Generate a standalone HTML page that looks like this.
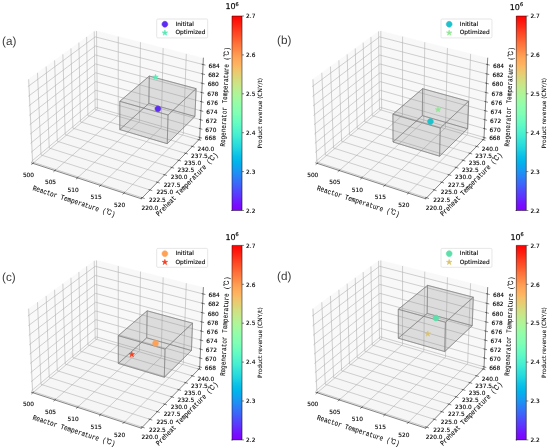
<!DOCTYPE html>
<html><head><meta charset="utf-8"><style>
html,body{margin:0;padding:0;background:#fff;}
text{text-rendering:geometricPrecision;stroke:#000;stroke-width:0.3px;stroke-opacity:0.6}
.pl text{stroke:none}
#wrap{position:relative;width:550px;height:448px;overflow:hidden;}
#wrap svg{position:absolute;left:0;top:0;display:block;filter:blur(0.3px);}
</style></head><body><div id="wrap">
<svg width="550" height="448" preserveAspectRatio="none" viewBox="0 0 940.61 766.17" version="1.1">
 
 <defs>
  <style type="text/css">*{stroke-linejoin: round; stroke-linecap: butt}</style>
 </defs>
 <defs><linearGradient id="rbw" x1="0" y1="0" x2="0" y2="1"><stop offset="0.00" stop-color="#ff0000"/><stop offset="0.02" stop-color="#ff1008"/><stop offset="0.04" stop-color="#ff1f10"/><stop offset="0.06" stop-color="#ff2f18"/><stop offset="0.08" stop-color="#ff4121"/><stop offset="0.10" stop-color="#ff5029"/><stop offset="0.12" stop-color="#ff5f30"/><stop offset="0.14" stop-color="#ff703a"/><stop offset="0.16" stop-color="#ff7e41"/><stop offset="0.18" stop-color="#ff8c49"/><stop offset="0.20" stop-color="#ff9b52"/><stop offset="0.22" stop-color="#ffa759"/><stop offset="0.25" stop-color="#ffb360"/><stop offset="0.27" stop-color="#f4c069"/><stop offset="0.29" stop-color="#ebca70"/><stop offset="0.31" stop-color="#e0d377"/><stop offset="0.33" stop-color="#d4dd80"/><stop offset="0.35" stop-color="#cbe486"/><stop offset="0.37" stop-color="#c0eb8d"/><stop offset="0.39" stop-color="#b4f295"/><stop offset="0.41" stop-color="#abf69b"/><stop offset="0.43" stop-color="#a0faa1"/><stop offset="0.45" stop-color="#94fda8"/><stop offset="0.47" stop-color="#8bfeae"/><stop offset="0.50" stop-color="#80ffb4"/><stop offset="0.52" stop-color="#74feba"/><stop offset="0.54" stop-color="#6afdc0"/><stop offset="0.56" stop-color="#60fac5"/><stop offset="0.58" stop-color="#54f6cb"/><stop offset="0.60" stop-color="#4af2cf"/><stop offset="0.62" stop-color="#40ecd4"/><stop offset="0.64" stop-color="#34e4d9"/><stop offset="0.66" stop-color="#2adddd"/><stop offset="0.68" stop-color="#20d5e1"/><stop offset="0.70" stop-color="#14cae5"/><stop offset="0.72" stop-color="#0ac0e8"/><stop offset="0.75" stop-color="#00b5eb"/><stop offset="0.77" stop-color="#0ca7ef"/><stop offset="0.79" stop-color="#169bf2"/><stop offset="0.81" stop-color="#208ef4"/><stop offset="0.83" stop-color="#2c7ef7"/><stop offset="0.85" stop-color="#3670f8"/><stop offset="0.87" stop-color="#4062fa"/><stop offset="0.89" stop-color="#4c50fc"/><stop offset="0.91" stop-color="#5641fd"/><stop offset="0.93" stop-color="#6032fe"/><stop offset="0.95" stop-color="#6c1fff"/><stop offset="0.97" stop-color="#7610ff"/><stop offset="1.00" stop-color="#8000ff"/></linearGradient></defs><g id="figure_1">
  <g id="patch_1">
   <path d="M 0 766.17 
L 940.61 766.17 
L 940.61 0 
L 0 0 
z
" style="fill: #ffffff"/>
  </g>
  <g id="patch_2">
   <path d="M 28.64 361.05 
L 363.02 361.05 
L 363.02 26.67 
L 28.64 26.67 
z
" style="fill: #ffffff"/>
  </g>
  <g id="pane3d_1">
   <g id="patch_3">
    <path d="M 53.89 278.61 
L 164.31 186.05 
L 162.78 52.56 
L 47.07 137.00 
" style="fill: #f9f9f9; stroke: #f9f9f9; stroke-linejoin: miter"/>
   </g>
  </g>
  <g id="pane3d_2">
   <g id="patch_4">
    <path d="M 164.31 186.05 
L 341.50 237.55 
L 347.82 99.46 
L 162.78 52.56 
" style="fill: #f8f8f8; stroke: #f8f8f8; stroke-linejoin: miter"/>
   </g>
  </g>
  <g id="pane3d_3">
   <g id="patch_5">
    <path d="M 53.89 278.61 
L 241.72 339.95 
L 341.50 237.55 
L 164.31 186.05 
" style="fill: #f6f6f6; stroke: #f6f6f6; stroke-linejoin: miter"/>
   </g>
  </g>
  <g id="grid3d_1">
   <g id="Line3DCollection_1">
    <path d="M 56.21 279.36 
L 166.51 186.69 
L 165.07 53.14 
" style="fill: none; stroke: #b0b0b0"/>
    <path d="M 93.89 291.67 
L 202.18 197.05 
L 202.26 62.57 
" style="fill: none; stroke: #b0b0b0"/>
    <path d="M 132.40 304.25 
L 238.57 207.63 
L 240.23 72.19 
" style="fill: none; stroke: #b0b0b0"/>
    <path d="M 171.76 317.10 
L 275.69 218.42 
L 279.01 82.02 
" style="fill: none; stroke: #b0b0b0"/>
    <path d="M 212.01 330.25 
L 313.58 229.43 
L 318.61 92.06 
" style="fill: none; stroke: #b0b0b0"/>
   </g>
  </g>
  <g id="grid3d_2">
   <g id="Line3DCollection_2">
    <path d="M 49.03 135.57 
L 55.75 277.04 
L 243.41 338.22 
" style="fill: none; stroke: #b0b0b0"/>
    <path d="M 64.14 124.54 
L 70.12 265.00 
L 256.44 324.84 
" style="fill: none; stroke: #b0b0b0"/>
    <path d="M 78.91 113.76 
L 84.19 253.20 
L 269.19 311.76 
" style="fill: none; stroke: #b0b0b0"/>
    <path d="M 93.37 103.21 
L 97.97 241.65 
L 281.66 298.96 
" style="fill: none; stroke: #b0b0b0"/>
    <path d="M 107.51 92.89 
L 111.46 230.34 
L 293.86 286.44 
" style="fill: none; stroke: #b0b0b0"/>
    <path d="M 121.35 82.79 
L 124.68 219.26 
L 305.79 274.20 
" style="fill: none; stroke: #b0b0b0"/>
    <path d="M 134.90 72.90 
L 137.63 208.41 
L 317.47 262.21 
" style="fill: none; stroke: #b0b0b0"/>
    <path d="M 148.17 63.22 
L 150.32 197.77 
L 328.91 250.47 
" style="fill: none; stroke: #b0b0b0"/>
    <path d="M 161.16 53.74 
L 162.76 187.35 
L 340.11 238.98 
" style="fill: none; stroke: #b0b0b0"/>
   </g>
  </g>
  <g id="grid3d_3">
   <g id="Line3DCollection_3">
    <path d="M 341.61 235.07 
L 164.28 183.65 
L 53.77 276.07 
" style="fill: none; stroke: #b0b0b0"/>
    <path d="M 342.30 220.02 
L 164.12 169.07 
L 53.02 260.65 
" style="fill: none; stroke: #b0b0b0"/>
    <path d="M 343.00 204.81 
L 163.95 154.35 
L 52.27 245.08 
" style="fill: none; stroke: #b0b0b0"/>
    <path d="M 343.70 189.46 
L 163.78 139.50 
L 51.52 229.34 
" style="fill: none; stroke: #b0b0b0"/>
    <path d="M 344.41 173.95 
L 163.60 124.50 
L 50.75 213.45 
" style="fill: none; stroke: #b0b0b0"/>
    <path d="M 345.13 158.30 
L 163.43 109.36 
L 49.98 197.39 
" style="fill: none; stroke: #b0b0b0"/>
    <path d="M 345.85 142.48 
L 163.25 94.08 
L 49.20 181.16 
" style="fill: none; stroke: #b0b0b0"/>
    <path d="M 346.59 126.50 
L 163.08 78.66 
L 48.41 164.77 
" style="fill: none; stroke: #b0b0b0"/>
    <path d="M 347.32 110.37 
L 162.90 63.08 
L 47.61 148.20 
" style="fill: none; stroke: #b0b0b0"/>
   </g>
  </g>
  <g id="axis3d_1">
   <g id="line2d_1">
    <path d="M 53.89 278.61 
L 241.72 339.95 
" style="fill: none; stroke: #000000; stroke-width: 0.8; stroke-linecap: square"/>
   </g>
   <g id="xtick_1">
    <g id="line2d_2">
     <path d="M 57.17 278.56 
L 54.29 280.98 
" style="fill: none; stroke: #000000; stroke-width: 0.8; stroke-linecap: square"/>
    </g>
    <g id="text_1">
     <text style="font-size: 10px; font-family: 'DejaVu Sans', sans-serif; text-anchor: middle" x="48.68" y="302.61" transform="rotate(-0.01 48.68 302.61)">500</text>
    </g>
   </g>
   <g id="xtick_2">
    <g id="line2d_3">
     <path d="M 94.84 290.85 
L 92.00 293.32 
" style="fill: none; stroke: #000000; stroke-width: 0.8; stroke-linecap: square"/>
    </g>
    <g id="text_2">
     <text style="font-size: 10px; font-family: 'DejaVu Sans', sans-serif; text-anchor: middle" x="86.39" y="315.13" transform="rotate(-0.01 86.39 315.13)">505</text>
    </g>
   </g>
   <g id="xtick_3">
    <g id="line2d_4">
     <path d="M 133.33 303.41 
L 130.55 305.94 
" style="fill: none; stroke: #000000; stroke-width: 0.8; stroke-linecap: square"/>
    </g>
    <g id="text_3">
     <text style="font-size: 10px; font-family: 'DejaVu Sans', sans-serif; text-anchor: middle" x="124.94" y="327.92" transform="rotate(-0.01 124.94 327.92)">510</text>
    </g>
   </g>
   <g id="xtick_4">
    <g id="line2d_5">
     <path d="M 172.67 316.24 
L 169.95 318.83 
" style="fill: none; stroke: #000000; stroke-width: 0.8; stroke-linecap: square"/>
    </g>
    <g id="text_4">
     <text style="font-size: 10px; font-family: 'DejaVu Sans', sans-serif; text-anchor: middle" x="164.33" y="340.99" transform="rotate(-0.01 164.33 340.99)">515</text>
    </g>
   </g>
   <g id="xtick_5">
    <g id="line2d_6">
     <path d="M 212.90 329.37 
L 210.23 332.01 
" style="fill: none; stroke: #000000; stroke-width: 0.8; stroke-linecap: square"/>
    </g>
    <g id="text_5">
     <text style="font-size: 10px; font-family: 'DejaVu Sans', sans-serif; text-anchor: middle" x="204.62" y="354.36" transform="rotate(-0.01 204.62 354.36)">520</text>
    </g>
   </g>
   <g id="text_6">
    <g transform="translate(-2.22 0.00)"><text textLength="147.93" lengthAdjust="spacingAndGlyphs" style="stroke-width: 0.2px; font-size: 12.4px; font-family: 'Liberation Mono', 'IPAGothic', monospace; text-anchor: middle" x="127.69" y="347.88" transform="rotate(-341.91 127.69 347.88)">Reactor Temperature (℃)</text></g>
   </g>
  </g>
  <g id="axis3d_2">
   <g id="line2d_7">
    <path d="M 341.50 237.55 
L 241.72 339.95 
" style="fill: none; stroke: #000000; stroke-width: 0.8; stroke-linecap: square"/>
   </g>
   <g id="xtick_6">
    <g id="line2d_8">
     <path d="M 241.83 337.70 
L 246.58 339.25 
" style="fill: none; stroke: #000000; stroke-width: 0.8; stroke-linecap: square"/>
    </g>
    <g id="text_7">
     <text style="font-size: 10px; font-family: 'DejaVu Sans', sans-serif; text-anchor: middle" x="256.34" y="359.30" transform="rotate(-0.01 256.34 359.30)">220.0</text>
    </g>
   </g>
   <g id="xtick_7">
    <g id="line2d_9">
     <path d="M 254.87 324.33 
L 259.59 325.85 
" style="fill: none; stroke: #000000; stroke-width: 0.8; stroke-linecap: square"/>
    </g>
    <g id="text_8">
     <text style="font-size: 10px; font-family: 'DejaVu Sans', sans-serif; text-anchor: middle" x="269.24" y="345.76" transform="rotate(-0.01 269.24 345.76)">222.5</text>
    </g>
   </g>
   <g id="xtick_8">
    <g id="line2d_10">
     <path d="M 267.63 311.26 
L 272.31 312.74 
" style="fill: none; stroke: #000000; stroke-width: 0.8; stroke-linecap: square"/>
    </g>
    <g id="text_9">
     <text style="font-size: 10px; font-family: 'DejaVu Sans', sans-serif; text-anchor: middle" x="281.85" y="332.53" transform="rotate(-0.01 281.85 332.53)">225.0</text>
    </g>
   </g>
   <g id="xtick_9">
    <g id="line2d_11">
     <path d="M 280.11 298.48 
L 284.75 299.93 
" style="fill: none; stroke: #000000; stroke-width: 0.8; stroke-linecap: square"/>
    </g>
    <g id="text_10">
     <text style="font-size: 10px; font-family: 'DejaVu Sans', sans-serif; text-anchor: middle" x="294.19" y="319.58" transform="rotate(-0.01 294.19 319.58)">227.5</text>
    </g>
   </g>
   <g id="xtick_10">
    <g id="line2d_12">
     <path d="M 292.32 285.97 
L 296.93 287.39 
" style="fill: none; stroke: #000000; stroke-width: 0.8; stroke-linecap: square"/>
    </g>
    <g id="text_11">
     <text style="font-size: 10px; font-family: 'DejaVu Sans', sans-serif; text-anchor: middle" x="306.25" y="306.92" transform="rotate(-0.01 306.25 306.92)">230.0</text>
    </g>
   </g>
   <g id="xtick_11">
    <g id="line2d_13">
     <path d="M 304.27 273.73 
L 308.84 275.12 
" style="fill: none; stroke: #000000; stroke-width: 0.8; stroke-linecap: square"/>
    </g>
    <g id="text_12">
     <text style="font-size: 10px; font-family: 'DejaVu Sans', sans-serif; text-anchor: middle" x="318.06" y="294.53" transform="rotate(-0.01 318.06 294.53)">232.5</text>
    </g>
   </g>
   <g id="xtick_12">
    <g id="line2d_14">
     <path d="M 315.96 261.76 
L 320.50 263.11 
" style="fill: none; stroke: #000000; stroke-width: 0.8; stroke-linecap: square"/>
    </g>
    <g id="text_13">
     <text style="font-size: 10px; font-family: 'DejaVu Sans', sans-serif; text-anchor: middle" x="329.62" y="282.40" transform="rotate(-0.01 329.62 282.40)">235.0</text>
    </g>
   </g>
   <g id="xtick_13">
    <g id="line2d_15">
     <path d="M 327.41 250.03 
L 331.91 251.36 
" style="fill: none; stroke: #000000; stroke-width: 0.8; stroke-linecap: square"/>
    </g>
    <g id="text_14">
     <text style="font-size: 10px; font-family: 'DejaVu Sans', sans-serif; text-anchor: middle" x="340.93" y="270.52" transform="rotate(-0.01 340.93 270.52)">237.5</text>
    </g>
   </g>
   <g id="xtick_14">
    <g id="line2d_16">
     <path d="M 338.62 238.55 
L 343.09 239.85 
" style="fill: none; stroke: #000000; stroke-width: 0.8; stroke-linecap: square"/>
    </g>
    <g id="text_15">
     <text style="font-size: 10px; font-family: 'DejaVu Sans', sans-serif; text-anchor: middle" x="352.01" y="258.90" transform="rotate(-0.01 352.01 258.90)">240.0</text>
    </g>
   </g>
   <g id="text_16">
    <g transform="translate(-1.37 0.51)"><text textLength="146.22" lengthAdjust="spacingAndGlyphs" style="stroke-width: 0.2px; font-size: 12.4px; font-family: 'Liberation Mono', 'IPAGothic', monospace; text-anchor: middle" x="323.97" y="317.54" transform="rotate(-45.74 323.97 317.54)">Preheat Temperature (℃)</text></g>
   </g>
  </g>
  <g id="axis3d_3">
   <g id="line2d_17">
    <path d="M 341.50 237.55 
L 347.82 99.46 
" style="fill: none; stroke: #000000; stroke-width: 0.8; stroke-linecap: square"/>
   </g>
   <g id="xtick_15">
    <g id="line2d_18">
     <path d="M 340.13 234.64 
L 344.59 235.94 
" style="fill: none; stroke: #000000; stroke-width: 0.8; stroke-linecap: square"/>
    </g>
    <g id="text_17">
     <text style="font-size: 10px; font-family: 'DejaVu Sans', sans-serif; text-anchor: middle" x="359.89" y="240.07" transform="rotate(-0.01 359.89 240.07)">668</text>
    </g>
   </g>
   <g id="xtick_16">
    <g id="line2d_19">
     <path d="M 340.81 219.59 
L 345.30 220.87 
" style="fill: none; stroke: #000000; stroke-width: 0.8; stroke-linecap: square"/>
    </g>
    <g id="text_18">
     <text style="font-size: 10px; font-family: 'DejaVu Sans', sans-serif; text-anchor: middle" x="360.66" y="225.03" transform="rotate(-0.01 360.66 225.03)">670</text>
    </g>
   </g>
   <g id="xtick_17">
    <g id="line2d_20">
     <path d="M 341.50 204.39 
L 346.01 205.66 
" style="fill: none; stroke: #000000; stroke-width: 0.8; stroke-linecap: square"/>
    </g>
    <g id="text_19">
     <text style="font-size: 10px; font-family: 'DejaVu Sans', sans-serif; text-anchor: middle" x="361.45" y="209.86" transform="rotate(-0.01 361.45 209.86)">672</text>
    </g>
   </g>
   <g id="xtick_18">
    <g id="line2d_21">
     <path d="M 342.19 189.04 
L 346.73 190.30 
" style="fill: none; stroke: #000000; stroke-width: 0.8; stroke-linecap: square"/>
    </g>
    <g id="text_20">
     <text style="font-size: 10px; font-family: 'DejaVu Sans', sans-serif; text-anchor: middle" x="362.24" y="194.53" transform="rotate(-0.01 362.24 194.53)">674</text>
    </g>
   </g>
   <g id="xtick_19">
    <g id="line2d_22">
     <path d="M 342.89 173.54 
L 347.45 174.79 
" style="fill: none; stroke: #000000; stroke-width: 0.8; stroke-linecap: square"/>
    </g>
    <g id="text_21">
     <text style="font-size: 10px; font-family: 'DejaVu Sans', sans-serif; text-anchor: middle" x="363.04" y="179.05" transform="rotate(-0.01 363.04 179.05)">676</text>
    </g>
   </g>
   <g id="xtick_20">
    <g id="line2d_23">
     <path d="M 343.60 157.88 
L 348.19 159.12 
" style="fill: none; stroke: #000000; stroke-width: 0.8; stroke-linecap: square"/>
    </g>
    <g id="text_22">
     <text style="font-size: 10px; font-family: 'DejaVu Sans', sans-serif; text-anchor: middle" x="363.85" y="163.41" transform="rotate(-0.01 363.85 163.41)">678</text>
    </g>
   </g>
   <g id="xtick_21">
    <g id="line2d_24">
     <path d="M 344.32 142.07 
L 348.93 143.29 
" style="fill: none; stroke: #000000; stroke-width: 0.8; stroke-linecap: square"/>
    </g>
    <g id="text_23">
     <text style="font-size: 10px; font-family: 'DejaVu Sans', sans-serif; text-anchor: middle" x="364.66" y="147.63" transform="rotate(-0.01 364.66 147.63)">680</text>
    </g>
   </g>
   <g id="xtick_22">
    <g id="line2d_25">
     <path d="M 345.04 126.10 
L 349.67 127.31 
" style="fill: none; stroke: #000000; stroke-width: 0.8; stroke-linecap: square"/>
    </g>
    <g id="text_24">
     <text style="font-size: 10px; font-family: 'DejaVu Sans', sans-serif; text-anchor: middle" x="365.49" y="131.68" transform="rotate(-0.01 365.49 131.68)">682</text>
    </g>
   </g>
   <g id="xtick_23">
    <g id="line2d_26">
     <path d="M 345.77 109.97 
L 350.43 111.16 
" style="fill: none; stroke: #000000; stroke-width: 0.8; stroke-linecap: square"/>
    </g>
    <g id="text_25">
     <text style="font-size: 10px; font-family: 'DejaVu Sans', sans-serif; text-anchor: middle" x="366.32" y="115.57" transform="rotate(-0.01 366.32 115.57)">684</text>
    </g>
   </g>
   <g id="text_26">
    <g transform="translate(-0.86 1.03)"><text textLength="170.17" lengthAdjust="spacingAndGlyphs" style="stroke-width: 0.2px; font-size: 12.4px; font-family: 'Liberation Mono', 'IPAGothic', monospace; text-anchor: middle" x="389.43" y="164.80" transform="rotate(-87.37 389.43 164.80)">Regenerator Temperature (℃)</text></g>
   </g>
  </g>
  <g id="axes_1">
   <g id="Poly3DCollection_1">
    <path d="M 333.36 199.19 
L 254.54 177.03 
L 255.35 130.08 
L 335.39 151.55 
z
" clip-path="url(#pbe417dcc4d)" style="fill: #808080; fill-opacity: 0.12; stroke: #7a7a7a; stroke-width: 0.85"/>
    <path d="M 204.83 221.58 
L 254.54 177.03 
L 255.35 130.08 
L 204.90 173.26 
z
" clip-path="url(#pbe417dcc4d)" style="fill: #808080; fill-opacity: 0.12; stroke: #7a7a7a; stroke-width: 0.85"/>
    <path d="M 204.83 221.58 
L 286.02 245.71 
L 333.36 199.19 
L 254.54 177.03 
z
" clip-path="url(#pbe417dcc4d)" style="fill: #808080; fill-opacity: 0.12; stroke: #7a7a7a; stroke-width: 0.85"/>
    <path d="M 204.90 173.26 
L 287.38 196.67 
L 335.39 151.55 
L 255.35 130.08 
z
" clip-path="url(#pbe417dcc4d)" style="fill: #808080; fill-opacity: 0.12; stroke: #7a7a7a; stroke-width: 0.85"/>
    <path d="M 286.02 245.71 
L 333.36 199.19 
L 335.39 151.55 
L 287.38 196.67 
z
" clip-path="url(#pbe417dcc4d)" style="fill: #808080; fill-opacity: 0.12; stroke: #7a7a7a; stroke-width: 0.85"/>
    <path d="M 204.83 221.58 
L 286.02 245.71 
L 287.38 196.67 
L 204.90 173.26 
z
" clip-path="url(#pbe417dcc4d)" style="fill: #808080; fill-opacity: 0.12; stroke: #7a7a7a; stroke-width: 0.85"/>
   </g>
   <g id="Path3DCollection_1">
    
    <g clip-path="url(#pbe417dcc4d)">
     <path d="M 0 5 
C 1.32 5 2.59 4.47 3.53 3.53 
C 4.47 2.59 5 1.32 5 0 
C 5 -1.32 4.47 -2.59 3.53 -3.53 
C 2.59 -4.47 1.32 -5 0 -5 
C -1.32 -5 -2.59 -4.47 -3.53 -3.53 
C -4.47 -2.59 -5 -1.32 -5 0 
C -5 1.32 -4.47 2.59 -3.53 3.53 
C -2.59 4.47 -1.32 5 0 5 
z
" transform="translate(270.04 186.07)" style="fill: #5d2df1; stroke: #5d2df1"/>
    </g>
   </g>
   <g id="Path3DCollection_2">
    
    <g clip-path="url(#pbe417dcc4d)">
     <path d="M 0 -5 
L -1.12 -1.54 
L -4.75 -1.54 
L -1.81 0.59 
L -2.93 4.04 
L -0 1.90 
L 2.93 4.04 
L 1.81 0.59 
L 4.75 -1.54 
L 1.12 -1.54 
z
" transform="translate(265.93 131.85)" style="fill: #5ae9b7; stroke: #5ae9b7"/>
    </g>
   </g>
   <g id="legend_1">
    <g id="patch_6">
     <path d="M 269.99 64.85 
L 353.17 64.85 
Q 355.17 64.85 355.17 62.85 
L 355.17 34.49 
Q 355.17 32.49 353.17 32.49 
L 269.99 32.49 
Q 267.99 32.49 267.99 34.49 
L 267.99 62.85 
Q 267.99 64.85 269.99 64.85 
z
" style="fill: #ffffff; opacity: 0.8; stroke: #cccccc; stroke-linejoin: miter"/>
    </g>
    <g id="Path3DCollection_3">
     <g>
      <path d="M 0 5 
C 1.32 5 2.59 4.47 3.53 3.53 
C 4.47 2.59 5 1.32 5 0 
C 5 -1.32 4.47 -2.59 3.53 -3.53 
C 2.59 -4.47 1.32 -5 0 -5 
C -1.32 -5 -2.59 -4.47 -3.53 -3.53 
C -4.47 -2.59 -5 -1.32 -5 0 
C -5 1.32 -4.47 2.59 -3.53 3.53 
C -2.59 4.47 -1.32 5 0 5 
z
" transform="translate(281.99 41.46)" style="fill: #5d2df1; stroke: #5d2df1"/>
     </g>
    </g>
    <g id="text_27">
     <text style="font-size: 10px; font-family: 'DejaVu Sans', sans-serif; text-anchor: start" x="299.99" y="44.09" transform="rotate(-0.01 299.99 44.09)">Initital</text>
    </g>
    <g id="Path3DCollection_4">
     <g>
      <path d="M 0 -5 
L -1.12 -1.54 
L -4.75 -1.54 
L -1.81 0.59 
L -2.93 4.04 
L -0 1.90 
L 2.93 4.04 
L 1.81 0.59 
L 4.75 -1.54 
L 1.12 -1.54 
z
" transform="translate(281.99 56.14)" style="fill: #5ae9b7; stroke: #5ae9b7"/>
     </g>
    </g>
    <g id="text_28">
     <text style="font-size: 10px; font-family: 'DejaVu Sans', sans-serif; text-anchor: start" x="299.99" y="58.77" transform="rotate(-0.01 299.99 58.77)">Optimized</text>
    </g>
   </g>
  </g>
  <g id="axes_2">
   <g id="patch_7">
    <path d="M 396.76 360 
L 413.87 360 
L 413.87 27.36 
L 396.76 27.36 
z
" style="fill: #ffffff"/>
   </g>
   <rect x="396.72" y="27.36" width="17.28" height="332.64" fill="url(#rbw)"/>
   <g id="matplotlib.axis_1"/>
   <g id="matplotlib.axis_2">
    <g id="ytick_1">
     <g id="line2d_27">
      
      <g>
       <path d="M 0 0 
L 3.5 0 
" transform="translate(413.87 360)" style="stroke: #000000; stroke-width: 0.8"/>
      </g>
     </g>
     <g id="text_29">
      <text style="font-size: 10px; font-family: 'DejaVu Sans', sans-serif; text-anchor: start" x="420.87" y="363.79" transform="rotate(-0.01 420.87 363.79)">2.2</text>
     </g>
    </g>
    <g id="ytick_2">
     <g id="line2d_28">
      <g>
       <path d="M 0 0 
L 3.5 0 
" transform="translate(413.87 293.47)" style="stroke: #000000; stroke-width: 0.8"/>
      </g>
     </g>
     <g id="text_30">
      <text style="font-size: 10px; font-family: 'DejaVu Sans', sans-serif; text-anchor: start" x="420.87" y="297.27" transform="rotate(-0.01 420.87 297.27)">2.3</text>
     </g>
    </g>
    <g id="ytick_3">
     <g id="line2d_29">
      <g>
       <path d="M 0 0 
L 3.5 0 
" transform="translate(413.87 226.94)" style="stroke: #000000; stroke-width: 0.8"/>
      </g>
     </g>
     <g id="text_31">
      <text style="font-size: 10px; font-family: 'DejaVu Sans', sans-serif; text-anchor: start" x="420.87" y="230.74" transform="rotate(-0.01 420.87 230.74)">2.4</text>
     </g>
    </g>
    <g id="ytick_4">
     <g id="line2d_30">
      <g>
       <path d="M 0 0 
L 3.5 0 
" transform="translate(413.87 160.41)" style="stroke: #000000; stroke-width: 0.8"/>
      </g>
     </g>
     <g id="text_32">
      <text style="font-size: 10px; font-family: 'DejaVu Sans', sans-serif; text-anchor: start" x="420.87" y="164.21" transform="rotate(-0.01 420.87 164.21)">2.5</text>
     </g>
    </g>
    <g id="ytick_5">
     <g id="line2d_31">
      <g>
       <path d="M 0 0 
L 3.5 0 
" transform="translate(413.87 93.89)" style="stroke: #000000; stroke-width: 0.8"/>
      </g>
     </g>
     <g id="text_33">
      <text style="font-size: 10px; font-family: 'DejaVu Sans', sans-serif; text-anchor: start" x="420.87" y="97.68" transform="rotate(-0.01 420.87 97.68)">2.6</text>
     </g>
    </g>
    <g id="ytick_6">
     <g id="line2d_32">
      <g>
       <path d="M 0 0 
L 3.5 0 
" transform="translate(413.87 27.36)" style="stroke: #000000; stroke-width: 0.8"/>
      </g>
     </g>
     <g id="text_34">
      <text style="font-size: 10px; font-family: 'DejaVu Sans', sans-serif; text-anchor: start" x="420.87" y="31.16" transform="rotate(-0.01 420.87 31.16)">2.7</text>
     </g>
    </g>
    <g id="text_35">
     <text style="stroke-width: 0.15px; font-size: 10px; font-family: 'DejaVu Sans', sans-serif; text-anchor: middle" x="448.37" y="193.68" transform="rotate(-90 448.37 193.68)">Product revenue (CNY/t)</text>
    </g>
   </g>
   <g id="LineCollection_1"/>
   <g id="patch_8">
    <path d="M 396.76 360 
L 405.32 360 
L 413.87 360 
L 413.87 27.36 
L 405.32 27.36 
L 396.76 27.36 
L 396.76 360 
z
" style="fill: none; stroke: #000000; stroke-width: 0.8; stroke-linejoin: miter; stroke-linecap: square"/>
   </g>
  </g>
  <g id="patch_9">
   <path d="M 514.85 361.05 
L 849.23 361.05 
L 849.23 26.67 
L 514.85 26.67 
z
" style="fill: #ffffff"/>
  </g>
  <g id="pane3d_4">
   <g id="patch_10">
    <path d="M 540.10 278.61 
L 650.52 186.05 
L 648.99 52.56 
L 533.28 137.00 
" style="fill: #f9f9f9; stroke: #f9f9f9; stroke-linejoin: miter"/>
   </g>
  </g>
  <g id="pane3d_5">
   <g id="patch_11">
    <path d="M 650.52 186.05 
L 827.71 237.55 
L 834.04 99.46 
L 648.99 52.56 
" style="fill: #f8f8f8; stroke: #f8f8f8; stroke-linejoin: miter"/>
   </g>
  </g>
  <g id="pane3d_6">
   <g id="patch_12">
    <path d="M 540.10 278.61 
L 727.93 339.95 
L 827.71 237.55 
L 650.52 186.05 
" style="fill: #f6f6f6; stroke: #f6f6f6; stroke-linejoin: miter"/>
   </g>
  </g>
  <g id="grid3d_4">
   <g id="Line3DCollection_4">
    <path d="M 542.43 279.36 
L 652.73 186.69 
L 651.29 53.14 
" style="fill: none; stroke: #b0b0b0"/>
    <path d="M 580.11 291.67 
L 688.40 197.05 
L 688.47 62.57 
" style="fill: none; stroke: #b0b0b0"/>
    <path d="M 618.62 304.25 
L 724.78 207.63 
L 726.44 72.19 
" style="fill: none; stroke: #b0b0b0"/>
    <path d="M 657.98 317.10 
L 761.91 218.42 
L 765.22 82.02 
" style="fill: none; stroke: #b0b0b0"/>
    <path d="M 698.22 330.25 
L 799.79 229.43 
L 804.83 92.06 
" style="fill: none; stroke: #b0b0b0"/>
   </g>
  </g>
  <g id="grid3d_5">
   <g id="Line3DCollection_5">
    <path d="M 535.24 135.57 
L 541.96 277.04 
L 729.62 338.22 
" style="fill: none; stroke: #b0b0b0"/>
    <path d="M 550.35 124.54 
L 556.34 265.00 
L 742.66 324.84 
" style="fill: none; stroke: #b0b0b0"/>
    <path d="M 565.13 113.76 
L 570.41 253.20 
L 755.41 311.76 
" style="fill: none; stroke: #b0b0b0"/>
    <path d="M 579.58 103.21 
L 584.19 241.65 
L 767.87 298.96 
" style="fill: none; stroke: #b0b0b0"/>
    <path d="M 593.72 92.89 
L 597.68 230.34 
L 780.07 286.44 
" style="fill: none; stroke: #b0b0b0"/>
    <path d="M 607.57 82.79 
L 610.90 219.26 
L 792.00 274.20 
" style="fill: none; stroke: #b0b0b0"/>
    <path d="M 621.11 72.90 
L 623.85 208.41 
L 803.69 262.21 
" style="fill: none; stroke: #b0b0b0"/>
    <path d="M 634.38 63.22 
L 636.54 197.77 
L 815.12 250.47 
" style="fill: none; stroke: #b0b0b0"/>
    <path d="M 647.37 53.74 
L 648.98 187.35 
L 826.32 238.98 
" style="fill: none; stroke: #b0b0b0"/>
   </g>
  </g>
  <g id="grid3d_6">
   <g id="Line3DCollection_6">
    <path d="M 827.83 235.07 
L 650.50 183.65 
L 539.98 276.07 
" style="fill: none; stroke: #b0b0b0"/>
    <path d="M 828.52 220.02 
L 650.33 169.07 
L 539.24 260.65 
" style="fill: none; stroke: #b0b0b0"/>
    <path d="M 829.21 204.81 
L 650.16 154.35 
L 538.49 245.08 
" style="fill: none; stroke: #b0b0b0"/>
    <path d="M 829.92 189.46 
L 649.99 139.50 
L 537.73 229.34 
" style="fill: none; stroke: #b0b0b0"/>
    <path d="M 830.63 173.95 
L 649.82 124.50 
L 536.96 213.45 
" style="fill: none; stroke: #b0b0b0"/>
    <path d="M 831.34 158.30 
L 649.64 109.36 
L 536.19 197.39 
" style="fill: none; stroke: #b0b0b0"/>
    <path d="M 832.07 142.48 
L 649.47 94.08 
L 535.41 181.16 
" style="fill: none; stroke: #b0b0b0"/>
    <path d="M 832.80 126.50 
L 649.29 78.66 
L 534.62 164.77 
" style="fill: none; stroke: #b0b0b0"/>
    <path d="M 833.54 110.37 
L 649.11 63.08 
L 533.82 148.20 
" style="fill: none; stroke: #b0b0b0"/>
   </g>
  </g>
  <g id="axis3d_4">
   <g id="line2d_33">
    <path d="M 540.10 278.61 
L 727.93 339.95 
" style="fill: none; stroke: #000000; stroke-width: 0.8; stroke-linecap: square"/>
   </g>
   <g id="xtick_24">
    <g id="line2d_34">
     <path d="M 543.39 278.56 
L 540.50 280.98 
" style="fill: none; stroke: #000000; stroke-width: 0.8; stroke-linecap: square"/>
    </g>
    <g id="text_36">
     <text style="font-size: 10px; font-family: 'DejaVu Sans', sans-serif; text-anchor: middle" x="534.90" y="302.61" transform="rotate(-0.01 534.90 302.61)">500</text>
    </g>
   </g>
   <g id="xtick_25">
    <g id="line2d_35">
     <path d="M 581.05 290.85 
L 578.22 293.32 
" style="fill: none; stroke: #000000; stroke-width: 0.8; stroke-linecap: square"/>
    </g>
    <g id="text_37">
     <text style="font-size: 10px; font-family: 'DejaVu Sans', sans-serif; text-anchor: middle" x="572.61" y="315.13" transform="rotate(-0.01 572.61 315.13)">505</text>
    </g>
   </g>
   <g id="xtick_26">
    <g id="line2d_36">
     <path d="M 619.54 303.41 
L 616.76 305.94 
" style="fill: none; stroke: #000000; stroke-width: 0.8; stroke-linecap: square"/>
    </g>
    <g id="text_38">
     <text style="font-size: 10px; font-family: 'DejaVu Sans', sans-serif; text-anchor: middle" x="611.15" y="327.92" transform="rotate(-0.01 611.15 327.92)">510</text>
    </g>
   </g>
   <g id="xtick_27">
    <g id="line2d_37">
     <path d="M 658.89 316.24 
L 656.16 318.83 
" style="fill: none; stroke: #000000; stroke-width: 0.8; stroke-linecap: square"/>
    </g>
    <g id="text_39">
     <text style="font-size: 10px; font-family: 'DejaVu Sans', sans-serif; text-anchor: middle" x="650.55" y="340.99" transform="rotate(-0.01 650.55 340.99)">515</text>
    </g>
   </g>
   <g id="xtick_28">
    <g id="line2d_38">
     <path d="M 699.11 329.37 
L 696.45 332.01 
" style="fill: none; stroke: #000000; stroke-width: 0.8; stroke-linecap: square"/>
    </g>
    <g id="text_40">
     <text style="font-size: 10px; font-family: 'DejaVu Sans', sans-serif; text-anchor: middle" x="690.84" y="354.36" transform="rotate(-0.01 690.84 354.36)">520</text>
    </g>
   </g>
   <g id="text_41">
    <g transform="translate(-2.22 0.00)"><text textLength="147.93" lengthAdjust="spacingAndGlyphs" style="stroke-width: 0.2px; font-size: 12.4px; font-family: 'Liberation Mono', 'IPAGothic', monospace; text-anchor: middle" x="613.91" y="347.88" transform="rotate(-341.91 613.91 347.88)">Reactor Temperature (℃)</text></g>
   </g>
  </g>
  <g id="axis3d_5">
   <g id="line2d_39">
    <path d="M 827.71 237.55 
L 727.93 339.95 
" style="fill: none; stroke: #000000; stroke-width: 0.8; stroke-linecap: square"/>
   </g>
   <g id="xtick_29">
    <g id="line2d_40">
     <path d="M 728.04 337.70 
L 732.79 339.25 
" style="fill: none; stroke: #000000; stroke-width: 0.8; stroke-linecap: square"/>
    </g>
    <g id="text_42">
     <text style="font-size: 10px; font-family: 'DejaVu Sans', sans-serif; text-anchor: middle" x="742.56" y="359.30" transform="rotate(-0.01 742.56 359.30)">220.0</text>
    </g>
   </g>
   <g id="xtick_30">
    <g id="line2d_41">
     <path d="M 741.09 324.33 
L 745.80 325.85 
" style="fill: none; stroke: #000000; stroke-width: 0.8; stroke-linecap: square"/>
    </g>
    <g id="text_43">
     <text style="font-size: 10px; font-family: 'DejaVu Sans', sans-serif; text-anchor: middle" x="755.45" y="345.76" transform="rotate(-0.01 755.45 345.76)">222.5</text>
    </g>
   </g>
   <g id="xtick_31">
    <g id="line2d_42">
     <path d="M 753.85 311.26 
L 758.52 312.74 
" style="fill: none; stroke: #000000; stroke-width: 0.8; stroke-linecap: square"/>
    </g>
    <g id="text_44">
     <text style="font-size: 10px; font-family: 'DejaVu Sans', sans-serif; text-anchor: middle" x="768.07" y="332.53" transform="rotate(-0.01 768.07 332.53)">225.0</text>
    </g>
   </g>
   <g id="xtick_32">
    <g id="line2d_43">
     <path d="M 766.33 298.48 
L 770.97 299.93 
" style="fill: none; stroke: #000000; stroke-width: 0.8; stroke-linecap: square"/>
    </g>
    <g id="text_45">
     <text style="font-size: 10px; font-family: 'DejaVu Sans', sans-serif; text-anchor: middle" x="780.40" y="319.58" transform="rotate(-0.01 780.40 319.58)">227.5</text>
    </g>
   </g>
   <g id="xtick_33">
    <g id="line2d_44">
     <path d="M 778.54 285.97 
L 783.14 287.39 
" style="fill: none; stroke: #000000; stroke-width: 0.8; stroke-linecap: square"/>
    </g>
    <g id="text_46">
     <text style="font-size: 10px; font-family: 'DejaVu Sans', sans-serif; text-anchor: middle" x="792.47" y="306.92" transform="rotate(-0.01 792.47 306.92)">230.0</text>
    </g>
   </g>
   <g id="xtick_34">
    <g id="line2d_45">
     <path d="M 790.48 273.73 
L 795.05 275.12 
" style="fill: none; stroke: #000000; stroke-width: 0.8; stroke-linecap: square"/>
    </g>
    <g id="text_47">
     <text style="font-size: 10px; font-family: 'DejaVu Sans', sans-serif; text-anchor: middle" x="804.27" y="294.53" transform="rotate(-0.01 804.27 294.53)">232.5</text>
    </g>
   </g>
   <g id="xtick_35">
    <g id="line2d_46">
     <path d="M 802.18 261.76 
L 806.71 263.11 
" style="fill: none; stroke: #000000; stroke-width: 0.8; stroke-linecap: square"/>
    </g>
    <g id="text_48">
     <text style="font-size: 10px; font-family: 'DejaVu Sans', sans-serif; text-anchor: middle" x="815.83" y="282.40" transform="rotate(-0.01 815.83 282.40)">235.0</text>
    </g>
   </g>
   <g id="xtick_36">
    <g id="line2d_47">
     <path d="M 813.62 250.03 
L 818.13 251.36 
" style="fill: none; stroke: #000000; stroke-width: 0.8; stroke-linecap: square"/>
    </g>
    <g id="text_49">
     <text style="font-size: 10px; font-family: 'DejaVu Sans', sans-serif; text-anchor: middle" x="827.14" y="270.52" transform="rotate(-0.01 827.14 270.52)">237.5</text>
    </g>
   </g>
   <g id="xtick_37">
    <g id="line2d_48">
     <path d="M 824.83 238.55 
L 829.30 239.85 
" style="fill: none; stroke: #000000; stroke-width: 0.8; stroke-linecap: square"/>
    </g>
    <g id="text_50">
     <text style="font-size: 10px; font-family: 'DejaVu Sans', sans-serif; text-anchor: middle" x="838.22" y="258.90" transform="rotate(-0.01 838.22 258.90)">240.0</text>
    </g>
   </g>
   <g id="text_51">
    <g transform="translate(-1.37 0.51)"><text textLength="146.22" lengthAdjust="spacingAndGlyphs" style="stroke-width: 0.2px; font-size: 12.4px; font-family: 'Liberation Mono', 'IPAGothic', monospace; text-anchor: middle" x="810.18" y="317.54" transform="rotate(-45.74 810.18 317.54)">Preheat Temperature (℃)</text></g>
   </g>
  </g>
  <g id="axis3d_6">
   <g id="line2d_49">
    <path d="M 827.71 237.55 
L 834.04 99.46 
" style="fill: none; stroke: #000000; stroke-width: 0.8; stroke-linecap: square"/>
   </g>
   <g id="xtick_38">
    <g id="line2d_50">
     <path d="M 826.34 234.64 
L 830.81 235.94 
" style="fill: none; stroke: #000000; stroke-width: 0.8; stroke-linecap: square"/>
    </g>
    <g id="text_52">
     <text style="font-size: 10px; font-family: 'DejaVu Sans', sans-serif; text-anchor: middle" x="846.10" y="240.07" transform="rotate(-0.01 846.10 240.07)">668</text>
    </g>
   </g>
   <g id="xtick_39">
    <g id="line2d_51">
     <path d="M 827.02 219.59 
L 831.51 220.87 
" style="fill: none; stroke: #000000; stroke-width: 0.8; stroke-linecap: square"/>
    </g>
    <g id="text_53">
     <text style="font-size: 10px; font-family: 'DejaVu Sans', sans-serif; text-anchor: middle" x="846.88" y="225.03" transform="rotate(-0.01 846.88 225.03)">670</text>
    </g>
   </g>
   <g id="xtick_40">
    <g id="line2d_52">
     <path d="M 827.71 204.39 
L 832.22 205.66 
" style="fill: none; stroke: #000000; stroke-width: 0.8; stroke-linecap: square"/>
    </g>
    <g id="text_54">
     <text style="font-size: 10px; font-family: 'DejaVu Sans', sans-serif; text-anchor: middle" x="847.66" y="209.86" transform="rotate(-0.01 847.66 209.86)">672</text>
    </g>
   </g>
   <g id="xtick_41">
    <g id="line2d_53">
     <path d="M 828.41 189.04 
L 832.94 190.30 
" style="fill: none; stroke: #000000; stroke-width: 0.8; stroke-linecap: square"/>
    </g>
    <g id="text_55">
     <text style="font-size: 10px; font-family: 'DejaVu Sans', sans-serif; text-anchor: middle" x="848.46" y="194.53" transform="rotate(-0.01 848.46 194.53)">674</text>
    </g>
   </g>
   <g id="xtick_42">
    <g id="line2d_54">
     <path d="M 829.11 173.54 
L 833.67 174.79 
" style="fill: none; stroke: #000000; stroke-width: 0.8; stroke-linecap: square"/>
    </g>
    <g id="text_56">
     <text style="font-size: 10px; font-family: 'DejaVu Sans', sans-serif; text-anchor: middle" x="849.26" y="179.05" transform="rotate(-0.01 849.26 179.05)">676</text>
    </g>
   </g>
   <g id="xtick_43">
    <g id="line2d_55">
     <path d="M 829.82 157.88 
L 834.40 159.12 
" style="fill: none; stroke: #000000; stroke-width: 0.8; stroke-linecap: square"/>
    </g>
    <g id="text_57">
     <text style="font-size: 10px; font-family: 'DejaVu Sans', sans-serif; text-anchor: middle" x="850.06" y="163.41" transform="rotate(-0.01 850.06 163.41)">678</text>
    </g>
   </g>
   <g id="xtick_44">
    <g id="line2d_56">
     <path d="M 830.53 142.07 
L 835.14 143.29 
" style="fill: none; stroke: #000000; stroke-width: 0.8; stroke-linecap: square"/>
    </g>
    <g id="text_58">
     <text style="font-size: 10px; font-family: 'DejaVu Sans', sans-serif; text-anchor: middle" x="850.88" y="147.63" transform="rotate(-0.01 850.88 147.63)">680</text>
    </g>
   </g>
   <g id="xtick_45">
    <g id="line2d_57">
     <path d="M 831.26 126.10 
L 835.89 127.31 
" style="fill: none; stroke: #000000; stroke-width: 0.8; stroke-linecap: square"/>
    </g>
    <g id="text_59">
     <text style="font-size: 10px; font-family: 'DejaVu Sans', sans-serif; text-anchor: middle" x="851.70" y="131.68" transform="rotate(-0.01 851.70 131.68)">682</text>
    </g>
   </g>
   <g id="xtick_46">
    <g id="line2d_58">
     <path d="M 831.99 109.97 
L 836.64 111.16 
" style="fill: none; stroke: #000000; stroke-width: 0.8; stroke-linecap: square"/>
    </g>
    <g id="text_60">
     <text style="font-size: 10px; font-family: 'DejaVu Sans', sans-serif; text-anchor: middle" x="852.54" y="115.57" transform="rotate(-0.01 852.54 115.57)">684</text>
    </g>
   </g>
   <g id="text_61">
    <g transform="translate(-0.86 1.03)"><text textLength="170.17" lengthAdjust="spacingAndGlyphs" style="stroke-width: 0.2px; font-size: 12.4px; font-family: 'Liberation Mono', 'IPAGothic', monospace; text-anchor: middle" x="875.64" y="164.80" transform="rotate(-87.37 875.64 164.80)">Regenerator Temperature (℃)</text></g>
   </g>
  </g>
  <g id="axes_3">
   <g id="Poly3DCollection_2">
    <path d="M 799.65 220.09 
L 722.25 197.78 
L 722.78 151.64 
L 801.36 173.29 
z
" clip-path="url(#p86e88a54c8)" style="fill: #808080; fill-opacity: 0.12; stroke: #7a7a7a; stroke-width: 0.85"/>
    <path d="M 672.15 242.85 
L 722.25 197.78 
L 722.78 151.64 
L 671.93 195.40 
z
" clip-path="url(#p86e88a54c8)" style="fill: #808080; fill-opacity: 0.12; stroke: #7a7a7a; stroke-width: 0.85"/>
    <path d="M 672.15 242.85 
L 751.84 267.13 
L 799.65 220.09 
L 722.25 197.78 
z
" clip-path="url(#p86e88a54c8)" style="fill: #808080; fill-opacity: 0.12; stroke: #7a7a7a; stroke-width: 0.85"/>
    <path d="M 671.93 195.40 
L 752.87 218.99 
L 801.36 173.29 
L 722.78 151.64 
z
" clip-path="url(#p86e88a54c8)" style="fill: #808080; fill-opacity: 0.12; stroke: #7a7a7a; stroke-width: 0.85"/>
    <path d="M 751.84 267.13 
L 799.65 220.09 
L 801.36 173.29 
L 752.87 218.99 
z
" clip-path="url(#p86e88a54c8)" style="fill: #808080; fill-opacity: 0.12; stroke: #7a7a7a; stroke-width: 0.85"/>
    <path d="M 672.15 242.85 
L 751.84 267.13 
L 752.87 218.99 
L 671.93 195.40 
z
" clip-path="url(#p86e88a54c8)" style="fill: #808080; fill-opacity: 0.12; stroke: #7a7a7a; stroke-width: 0.85"/>
   </g>
   <g id="Path3DCollection_5">
    
    <g clip-path="url(#p86e88a54c8)">
     <path d="M 0 5 
C 1.32 5 2.59 4.47 3.53 3.53 
C 4.47 2.59 5 1.32 5 0 
C 5 -1.32 4.47 -2.59 3.53 -3.53 
C 2.59 -4.47 1.32 -5 0 -5 
C -1.32 -5 -2.59 -4.47 -3.53 -3.53 
C -4.47 -2.59 -5 -1.32 -5 0 
C -5 1.32 -4.47 2.59 -3.53 3.53 
C -2.59 4.47 -1.32 5 0 5 
z
" transform="translate(736.07 207.79)" style="fill: #1fc1ca; stroke: #1fc1ca"/>
    </g>
   </g>
   <g id="Path3DCollection_6">
    
    <g clip-path="url(#p86e88a54c8)">
     <path d="M 0 -5 
L -1.12 -1.54 
L -4.75 -1.54 
L -1.81 0.59 
L -2.93 4.04 
L -0 1.90 
L 2.93 4.04 
L 1.81 0.59 
L 4.75 -1.54 
L 1.12 -1.54 
z
" transform="translate(749.07 187.43)" style="fill: #92e695; stroke: #92e695"/>
    </g>
   </g>
   <g id="legend_2">
    <g id="patch_13">
     <path d="M 756.20 64.85 
L 839.39 64.85 
Q 841.39 64.85 841.39 62.85 
L 841.39 34.49 
Q 841.39 32.49 839.39 32.49 
L 756.20 32.49 
Q 754.20 32.49 754.20 34.49 
L 754.20 62.85 
Q 754.20 64.85 756.20 64.85 
z
" style="fill: #ffffff; opacity: 0.8; stroke: #cccccc; stroke-linejoin: miter"/>
    </g>
    <g id="Path3DCollection_7">
     <g>
      <path d="M 0 5 
C 1.32 5 2.59 4.47 3.53 3.53 
C 4.47 2.59 5 1.32 5 0 
C 5 -1.32 4.47 -2.59 3.53 -3.53 
C 2.59 -4.47 1.32 -5 0 -5 
C -1.32 -5 -2.59 -4.47 -3.53 -3.53 
C -4.47 -2.59 -5 -1.32 -5 0 
C -5 1.32 -4.47 2.59 -3.53 3.53 
C -2.59 4.47 -1.32 5 0 5 
z
" transform="translate(768.20 41.46)" style="fill: #1fc1ca; stroke: #1fc1ca"/>
     </g>
    </g>
    <g id="text_62">
     <text style="font-size: 10px; font-family: 'DejaVu Sans', sans-serif; text-anchor: start" x="786.20" y="44.09" transform="rotate(-0.01 786.20 44.09)">Initital</text>
    </g>
    <g id="Path3DCollection_8">
     <g>
      <path d="M 0 -5 
L -1.12 -1.54 
L -4.75 -1.54 
L -1.81 0.59 
L -2.93 4.04 
L -0 1.90 
L 2.93 4.04 
L 1.81 0.59 
L 4.75 -1.54 
L 1.12 -1.54 
z
" transform="translate(768.20 56.14)" style="fill: #92e695; stroke: #92e695"/>
     </g>
    </g>
    <g id="text_63">
     <text style="font-size: 10px; font-family: 'DejaVu Sans', sans-serif; text-anchor: start" x="786.20" y="58.77" transform="rotate(-0.01 786.20 58.77)">Optimized</text>
    </g>
   </g>
  </g>
  <g id="axes_4">
   <g id="patch_14">
    <path d="M 882.98 360 
L 900.08 360 
L 900.08 27.36 
L 882.98 27.36 
z
" style="fill: #ffffff"/>
   </g>
   <rect x="882.72" y="27.36" width="17.28" height="332.64" fill="url(#rbw)"/>
   <g id="matplotlib.axis_3"/>
   <g id="matplotlib.axis_4">
    <g id="ytick_7">
     <g id="line2d_59">
      <g>
       <path d="M 0 0 
L 3.5 0 
" transform="translate(900.08 360)" style="stroke: #000000; stroke-width: 0.8"/>
      </g>
     </g>
     <g id="text_64">
      <text style="font-size: 10px; font-family: 'DejaVu Sans', sans-serif; text-anchor: start" x="907.08" y="363.79" transform="rotate(-0.01 907.08 363.79)">2.2</text>
     </g>
    </g>
    <g id="ytick_8">
     <g id="line2d_60">
      <g>
       <path d="M 0 0 
L 3.5 0 
" transform="translate(900.08 293.47)" style="stroke: #000000; stroke-width: 0.8"/>
      </g>
     </g>
     <g id="text_65">
      <text style="font-size: 10px; font-family: 'DejaVu Sans', sans-serif; text-anchor: start" x="907.08" y="297.27" transform="rotate(-0.01 907.08 297.27)">2.3</text>
     </g>
    </g>
    <g id="ytick_9">
     <g id="line2d_61">
      <g>
       <path d="M 0 0 
L 3.5 0 
" transform="translate(900.08 226.94)" style="stroke: #000000; stroke-width: 0.8"/>
      </g>
     </g>
     <g id="text_66">
      <text style="font-size: 10px; font-family: 'DejaVu Sans', sans-serif; text-anchor: start" x="907.08" y="230.74" transform="rotate(-0.01 907.08 230.74)">2.4</text>
     </g>
    </g>
    <g id="ytick_10">
     <g id="line2d_62">
      <g>
       <path d="M 0 0 
L 3.5 0 
" transform="translate(900.08 160.41)" style="stroke: #000000; stroke-width: 0.8"/>
      </g>
     </g>
     <g id="text_67">
      <text style="font-size: 10px; font-family: 'DejaVu Sans', sans-serif; text-anchor: start" x="907.08" y="164.21" transform="rotate(-0.01 907.08 164.21)">2.5</text>
     </g>
    </g>
    <g id="ytick_11">
     <g id="line2d_63">
      <g>
       <path d="M 0 0 
L 3.5 0 
" transform="translate(900.08 93.89)" style="stroke: #000000; stroke-width: 0.8"/>
      </g>
     </g>
     <g id="text_68">
      <text style="font-size: 10px; font-family: 'DejaVu Sans', sans-serif; text-anchor: start" x="907.08" y="97.68" transform="rotate(-0.01 907.08 97.68)">2.6</text>
     </g>
    </g>
    <g id="ytick_12">
     <g id="line2d_64">
      <g>
       <path d="M 0 0 
L 3.5 0 
" transform="translate(900.08 27.36)" style="stroke: #000000; stroke-width: 0.8"/>
      </g>
     </g>
     <g id="text_69">
      <text style="font-size: 10px; font-family: 'DejaVu Sans', sans-serif; text-anchor: start" x="907.08" y="31.16" transform="rotate(-0.01 907.08 31.16)">2.7</text>
     </g>
    </g>
    <g id="text_70">
     <text style="stroke-width: 0.15px; font-size: 10px; font-family: 'DejaVu Sans', sans-serif; text-anchor: middle" x="934.58" y="193.68" transform="rotate(-90 934.58 193.68)">Product revenue (CNY/t)</text>
    </g>
   </g>
   <g id="LineCollection_2"/>
   <g id="patch_15">
    <path d="M 882.98 360 
L 891.53 360 
L 900.08 360 
L 900.08 27.36 
L 891.53 27.36 
L 882.98 27.36 
L 882.98 360 
z
" style="fill: none; stroke: #000000; stroke-width: 0.8; stroke-linejoin: miter; stroke-linecap: square"/>
   </g>
  </g>
  <g id="patch_16">
   <path d="M 28.64 753.38 
L 363.02 753.38 
L 363.02 419.00 
L 28.64 419.00 
z
" style="fill: #ffffff"/>
  </g>
  <g id="pane3d_7">
   <g id="patch_17">
    <path d="M 53.89 670.93 
L 164.31 578.37 
L 162.78 444.88 
L 47.07 529.32 
" style="fill: #f9f9f9; stroke: #f9f9f9; stroke-linejoin: miter"/>
   </g>
  </g>
  <g id="pane3d_8">
   <g id="patch_18">
    <path d="M 164.31 578.37 
L 341.50 629.87 
L 347.82 491.79 
L 162.78 444.88 
" style="fill: #f8f8f8; stroke: #f8f8f8; stroke-linejoin: miter"/>
   </g>
  </g>
  <g id="pane3d_9">
   <g id="patch_19">
    <path d="M 53.89 670.93 
L 241.72 732.27 
L 341.50 629.87 
L 164.31 578.37 
" style="fill: #f6f6f6; stroke: #f6f6f6; stroke-linejoin: miter"/>
   </g>
  </g>
  <g id="grid3d_7">
   <g id="Line3DCollection_7">
    <path d="M 56.21 671.69 
L 166.51 579.01 
L 165.07 445.47 
" style="fill: none; stroke: #b0b0b0"/>
    <path d="M 93.89 683.99 
L 202.18 589.38 
L 202.26 454.89 
" style="fill: none; stroke: #b0b0b0"/>
    <path d="M 132.40 696.57 
L 238.57 599.95 
L 240.23 464.52 
" style="fill: none; stroke: #b0b0b0"/>
    <path d="M 171.76 709.43 
L 275.69 610.74 
L 279.01 474.34 
" style="fill: none; stroke: #b0b0b0"/>
    <path d="M 212.01 722.57 
L 313.58 621.76 
L 318.61 484.38 
" style="fill: none; stroke: #b0b0b0"/>
   </g>
  </g>
  <g id="grid3d_8">
   <g id="Line3DCollection_8">
    <path d="M 49.03 527.89 
L 55.75 669.37 
L 243.41 730.54 
" style="fill: none; stroke: #b0b0b0"/>
    <path d="M 64.14 516.87 
L 70.12 657.32 
L 256.44 717.16 
" style="fill: none; stroke: #b0b0b0"/>
    <path d="M 78.91 506.08 
L 84.19 645.53 
L 269.19 704.08 
" style="fill: none; stroke: #b0b0b0"/>
    <path d="M 93.37 495.53 
L 97.97 633.98 
L 281.66 691.28 
" style="fill: none; stroke: #b0b0b0"/>
    <path d="M 107.51 485.21 
L 111.46 622.67 
L 293.86 678.77 
" style="fill: none; stroke: #b0b0b0"/>
    <path d="M 121.35 475.11 
L 124.68 611.59 
L 305.79 666.52 
" style="fill: none; stroke: #b0b0b0"/>
    <path d="M 134.90 465.23 
L 137.63 600.73 
L 317.47 654.53 
" style="fill: none; stroke: #b0b0b0"/>
    <path d="M 148.17 455.55 
L 150.32 590.10 
L 328.91 642.79 
" style="fill: none; stroke: #b0b0b0"/>
    <path d="M 161.16 446.06 
L 162.76 579.67 
L 340.11 631.30 
" style="fill: none; stroke: #b0b0b0"/>
   </g>
  </g>
  <g id="grid3d_9">
   <g id="Line3DCollection_9">
    <path d="M 341.61 627.39 
L 164.28 575.97 
L 53.77 668.39 
" style="fill: none; stroke: #b0b0b0"/>
    <path d="M 342.30 612.34 
L 164.12 561.39 
L 53.02 652.97 
" style="fill: none; stroke: #b0b0b0"/>
    <path d="M 343.00 597.14 
L 163.95 546.67 
L 52.27 637.40 
" style="fill: none; stroke: #b0b0b0"/>
    <path d="M 343.70 581.78 
L 163.78 531.82 
L 51.52 621.67 
" style="fill: none; stroke: #b0b0b0"/>
    <path d="M 344.41 566.28 
L 163.60 516.82 
L 50.75 605.77 
" style="fill: none; stroke: #b0b0b0"/>
    <path d="M 345.13 550.62 
L 163.43 501.69 
L 49.98 589.71 
" style="fill: none; stroke: #b0b0b0"/>
    <path d="M 345.85 534.80 
L 163.25 486.41 
L 49.20 573.48 
" style="fill: none; stroke: #b0b0b0"/>
    <path d="M 346.59 518.83 
L 163.08 470.98 
L 48.41 557.09 
" style="fill: none; stroke: #b0b0b0"/>
    <path d="M 347.32 502.69 
L 162.90 455.40 
L 47.61 540.52 
" style="fill: none; stroke: #b0b0b0"/>
   </g>
  </g>
  <g id="axis3d_7">
   <g id="line2d_65">
    <path d="M 53.89 670.93 
L 241.72 732.27 
" style="fill: none; stroke: #000000; stroke-width: 0.8; stroke-linecap: square"/>
   </g>
   <g id="xtick_47">
    <g id="line2d_66">
     <path d="M 57.17 670.88 
L 54.29 673.30 
" style="fill: none; stroke: #000000; stroke-width: 0.8; stroke-linecap: square"/>
    </g>
    <g id="text_71">
     <text style="font-size: 10px; font-family: 'DejaVu Sans', sans-serif; text-anchor: middle" x="48.68" y="694.94" transform="rotate(-0.01 48.68 694.94)">500</text>
    </g>
   </g>
   <g id="xtick_48">
    <g id="line2d_67">
     <path d="M 94.84 683.17 
L 92.00 685.65 
" style="fill: none; stroke: #000000; stroke-width: 0.8; stroke-linecap: square"/>
    </g>
    <g id="text_72">
     <text style="font-size: 10px; font-family: 'DejaVu Sans', sans-serif; text-anchor: middle" x="86.39" y="707.45" transform="rotate(-0.01 86.39 707.45)">505</text>
    </g>
   </g>
   <g id="xtick_49">
    <g id="line2d_68">
     <path d="M 133.33 695.73 
L 130.55 698.26 
" style="fill: none; stroke: #000000; stroke-width: 0.8; stroke-linecap: square"/>
    </g>
    <g id="text_73">
     <text style="font-size: 10px; font-family: 'DejaVu Sans', sans-serif; text-anchor: middle" x="124.94" y="720.24" transform="rotate(-0.01 124.94 720.24)">510</text>
    </g>
   </g>
   <g id="xtick_50">
    <g id="line2d_69">
     <path d="M 172.67 708.57 
L 169.95 711.15 
" style="fill: none; stroke: #000000; stroke-width: 0.8; stroke-linecap: square"/>
    </g>
    <g id="text_74">
     <text style="font-size: 10px; font-family: 'DejaVu Sans', sans-serif; text-anchor: middle" x="164.33" y="733.31" transform="rotate(-0.01 164.33 733.31)">515</text>
    </g>
   </g>
   <g id="xtick_51">
    <g id="line2d_70">
     <path d="M 212.90 721.69 
L 210.23 724.34 
" style="fill: none; stroke: #000000; stroke-width: 0.8; stroke-linecap: square"/>
    </g>
    <g id="text_75">
     <text style="font-size: 10px; font-family: 'DejaVu Sans', sans-serif; text-anchor: middle" x="204.62" y="746.68" transform="rotate(-0.01 204.62 746.68)">520</text>
    </g>
   </g>
   <g id="text_76">
    <g transform="translate(-2.22 0.00)"><text textLength="147.93" lengthAdjust="spacingAndGlyphs" style="stroke-width: 0.2px; font-size: 12.4px; font-family: 'Liberation Mono', 'IPAGothic', monospace; text-anchor: middle" x="127.69" y="740.20" transform="rotate(-341.91 127.69 740.20)">Reactor Temperature (℃)</text></g>
   </g>
  </g>
  <g id="axis3d_8">
   <g id="line2d_71">
    <path d="M 341.50 629.87 
L 241.72 732.27 
" style="fill: none; stroke: #000000; stroke-width: 0.8; stroke-linecap: square"/>
   </g>
   <g id="xtick_52">
    <g id="line2d_72">
     <path d="M 241.83 730.02 
L 246.58 731.57 
" style="fill: none; stroke: #000000; stroke-width: 0.8; stroke-linecap: square"/>
    </g>
    <g id="text_77">
     <text style="font-size: 10px; font-family: 'DejaVu Sans', sans-serif; text-anchor: middle" x="256.34" y="751.62" transform="rotate(-0.01 256.34 751.62)">220.0</text>
    </g>
   </g>
   <g id="xtick_53">
    <g id="line2d_73">
     <path d="M 254.87 716.66 
L 259.59 718.17 
" style="fill: none; stroke: #000000; stroke-width: 0.8; stroke-linecap: square"/>
    </g>
    <g id="text_78">
     <text style="font-size: 10px; font-family: 'DejaVu Sans', sans-serif; text-anchor: middle" x="269.24" y="738.09" transform="rotate(-0.01 269.24 738.09)">222.5</text>
    </g>
   </g>
   <g id="xtick_54">
    <g id="line2d_74">
     <path d="M 267.63 703.59 
L 272.31 705.07 
" style="fill: none; stroke: #000000; stroke-width: 0.8; stroke-linecap: square"/>
    </g>
    <g id="text_79">
     <text style="font-size: 10px; font-family: 'DejaVu Sans', sans-serif; text-anchor: middle" x="281.85" y="724.85" transform="rotate(-0.01 281.85 724.85)">225.0</text>
    </g>
   </g>
   <g id="xtick_55">
    <g id="line2d_75">
     <path d="M 280.11 690.80 
L 284.75 692.25 
" style="fill: none; stroke: #000000; stroke-width: 0.8; stroke-linecap: square"/>
    </g>
    <g id="text_80">
     <text style="font-size: 10px; font-family: 'DejaVu Sans', sans-serif; text-anchor: middle" x="294.19" y="711.90" transform="rotate(-0.01 294.19 711.90)">227.5</text>
    </g>
   </g>
   <g id="xtick_56">
    <g id="line2d_76">
     <path d="M 292.32 678.29 
L 296.93 679.71 
" style="fill: none; stroke: #000000; stroke-width: 0.8; stroke-linecap: square"/>
    </g>
    <g id="text_81">
     <text style="font-size: 10px; font-family: 'DejaVu Sans', sans-serif; text-anchor: middle" x="306.25" y="699.24" transform="rotate(-0.01 306.25 699.24)">230.0</text>
    </g>
   </g>
   <g id="xtick_57">
    <g id="line2d_77">
     <path d="M 304.27 666.06 
L 308.84 667.44 
" style="fill: none; stroke: #000000; stroke-width: 0.8; stroke-linecap: square"/>
    </g>
    <g id="text_82">
     <text style="font-size: 10px; font-family: 'DejaVu Sans', sans-serif; text-anchor: middle" x="318.06" y="686.85" transform="rotate(-0.01 318.06 686.85)">232.5</text>
    </g>
   </g>
   <g id="xtick_58">
    <g id="line2d_78">
     <path d="M 315.96 654.08 
L 320.50 655.44 
" style="fill: none; stroke: #000000; stroke-width: 0.8; stroke-linecap: square"/>
    </g>
    <g id="text_83">
     <text style="font-size: 10px; font-family: 'DejaVu Sans', sans-serif; text-anchor: middle" x="329.62" y="674.72" transform="rotate(-0.01 329.62 674.72)">235.0</text>
    </g>
   </g>
   <g id="xtick_59">
    <g id="line2d_79">
     <path d="M 327.41 642.35 
L 331.91 643.68 
" style="fill: none; stroke: #000000; stroke-width: 0.8; stroke-linecap: square"/>
    </g>
    <g id="text_84">
     <text style="font-size: 10px; font-family: 'DejaVu Sans', sans-serif; text-anchor: middle" x="340.93" y="662.85" transform="rotate(-0.01 340.93 662.85)">237.5</text>
    </g>
   </g>
   <g id="xtick_60">
    <g id="line2d_80">
     <path d="M 338.62 630.87 
L 343.09 632.17 
" style="fill: none; stroke: #000000; stroke-width: 0.8; stroke-linecap: square"/>
    </g>
    <g id="text_85">
     <text style="font-size: 10px; font-family: 'DejaVu Sans', sans-serif; text-anchor: middle" x="352.01" y="651.22" transform="rotate(-0.01 352.01 651.22)">240.0</text>
    </g>
   </g>
   <g id="text_86">
    <g transform="translate(-1.37 0.51)"><text textLength="146.22" lengthAdjust="spacingAndGlyphs" style="stroke-width: 0.2px; font-size: 12.4px; font-family: 'Liberation Mono', 'IPAGothic', monospace; text-anchor: middle" x="323.97" y="709.86" transform="rotate(-45.74 323.97 709.86)">Preheat Temperature (℃)</text></g>
   </g>
  </g>
  <g id="axis3d_9">
   <g id="line2d_81">
    <path d="M 341.50 629.87 
L 347.82 491.79 
" style="fill: none; stroke: #000000; stroke-width: 0.8; stroke-linecap: square"/>
   </g>
   <g id="xtick_61">
    <g id="line2d_82">
     <path d="M 340.13 626.96 
L 344.59 628.26 
" style="fill: none; stroke: #000000; stroke-width: 0.8; stroke-linecap: square"/>
    </g>
    <g id="text_87">
     <text style="font-size: 10px; font-family: 'DejaVu Sans', sans-serif; text-anchor: middle" x="359.89" y="632.39" transform="rotate(-0.01 359.89 632.39)">668</text>
    </g>
   </g>
   <g id="xtick_62">
    <g id="line2d_83">
     <path d="M 340.81 611.91 
L 345.30 613.20 
" style="fill: none; stroke: #000000; stroke-width: 0.8; stroke-linecap: square"/>
    </g>
    <g id="text_88">
     <text style="font-size: 10px; font-family: 'DejaVu Sans', sans-serif; text-anchor: middle" x="360.66" y="617.36" transform="rotate(-0.01 360.66 617.36)">670</text>
    </g>
   </g>
   <g id="xtick_63">
    <g id="line2d_84">
     <path d="M 341.50 596.71 
L 346.01 597.98 
" style="fill: none; stroke: #000000; stroke-width: 0.8; stroke-linecap: square"/>
    </g>
    <g id="text_89">
     <text style="font-size: 10px; font-family: 'DejaVu Sans', sans-serif; text-anchor: middle" x="361.45" y="602.18" transform="rotate(-0.01 361.45 602.18)">672</text>
    </g>
   </g>
   <g id="xtick_64">
    <g id="line2d_85">
     <path d="M 342.19 581.36 
L 346.73 582.62 
" style="fill: none; stroke: #000000; stroke-width: 0.8; stroke-linecap: square"/>
    </g>
    <g id="text_90">
     <text style="font-size: 10px; font-family: 'DejaVu Sans', sans-serif; text-anchor: middle" x="362.24" y="586.85" transform="rotate(-0.01 362.24 586.85)">674</text>
    </g>
   </g>
   <g id="xtick_65">
    <g id="line2d_86">
     <path d="M 342.89 565.86 
L 347.45 567.11 
" style="fill: none; stroke: #000000; stroke-width: 0.8; stroke-linecap: square"/>
    </g>
    <g id="text_91">
     <text style="font-size: 10px; font-family: 'DejaVu Sans', sans-serif; text-anchor: middle" x="363.04" y="571.37" transform="rotate(-0.01 363.04 571.37)">676</text>
    </g>
   </g>
   <g id="xtick_66">
    <g id="line2d_87">
     <path d="M 343.60 550.21 
L 348.19 551.44 
" style="fill: none; stroke: #000000; stroke-width: 0.8; stroke-linecap: square"/>
    </g>
    <g id="text_92">
     <text style="font-size: 10px; font-family: 'DejaVu Sans', sans-serif; text-anchor: middle" x="363.85" y="555.74" transform="rotate(-0.01 363.85 555.74)">678</text>
    </g>
   </g>
   <g id="xtick_67">
    <g id="line2d_88">
     <path d="M 344.32 534.40 
L 348.93 535.62 
" style="fill: none; stroke: #000000; stroke-width: 0.8; stroke-linecap: square"/>
    </g>
    <g id="text_93">
     <text style="font-size: 10px; font-family: 'DejaVu Sans', sans-serif; text-anchor: middle" x="364.66" y="539.95" transform="rotate(-0.01 364.66 539.95)">680</text>
    </g>
   </g>
   <g id="xtick_68">
    <g id="line2d_89">
     <path d="M 345.04 518.43 
L 349.67 519.63 
" style="fill: none; stroke: #000000; stroke-width: 0.8; stroke-linecap: square"/>
    </g>
    <g id="text_94">
     <text style="font-size: 10px; font-family: 'DejaVu Sans', sans-serif; text-anchor: middle" x="365.49" y="524.00" transform="rotate(-0.01 365.49 524.00)">682</text>
    </g>
   </g>
   <g id="xtick_69">
    <g id="line2d_90">
     <path d="M 345.77 502.29 
L 350.43 503.49 
" style="fill: none; stroke: #000000; stroke-width: 0.8; stroke-linecap: square"/>
    </g>
    <g id="text_95">
     <text style="font-size: 10px; font-family: 'DejaVu Sans', sans-serif; text-anchor: middle" x="366.32" y="507.89" transform="rotate(-0.01 366.32 507.89)">684</text>
    </g>
   </g>
   <g id="text_96">
    <g transform="translate(-0.86 1.03)"><text textLength="170.17" lengthAdjust="spacingAndGlyphs" style="stroke-width: 0.2px; font-size: 12.4px; font-family: 'Liberation Mono', 'IPAGothic', monospace; text-anchor: middle" x="389.43" y="557.13" transform="rotate(-87.37 389.43 557.13)">Regenerator Temperature (℃)</text></g>
   </g>
  </g>
  <g id="axes_5">
   <g id="Poly3DCollection_3">
    <path d="M 327.40 599.46 
L 250.93 577.77 
L 251.68 531.57 
L 329.31 552.61 
z
" clip-path="url(#p834f73041d)" style="fill: #808080; fill-opacity: 0.12; stroke: #7a7a7a; stroke-width: 0.85"/>
    <path d="M 202.29 621.58 
L 250.93 577.77 
L 251.68 531.57 
L 202.32 574.08 
z
" clip-path="url(#p834f73041d)" style="fill: #808080; fill-opacity: 0.12; stroke: #7a7a7a; stroke-width: 0.85"/>
    <path d="M 202.29 621.58 
L 280.99 645.15 
L 327.40 599.46 
L 250.93 577.77 
z
" clip-path="url(#p834f73041d)" style="fill: #808080; fill-opacity: 0.12; stroke: #7a7a7a; stroke-width: 0.85"/>
    <path d="M 202.32 574.08 
L 282.26 596.97 
L 329.31 552.61 
L 251.68 531.57 
z
" clip-path="url(#p834f73041d)" style="fill: #808080; fill-opacity: 0.12; stroke: #7a7a7a; stroke-width: 0.85"/>
    <path d="M 280.99 645.15 
L 327.40 599.46 
L 329.31 552.61 
L 282.26 596.97 
z
" clip-path="url(#p834f73041d)" style="fill: #808080; fill-opacity: 0.12; stroke: #7a7a7a; stroke-width: 0.85"/>
    <path d="M 202.29 621.58 
L 280.99 645.15 
L 282.26 596.97 
L 202.32 574.08 
z
" clip-path="url(#p834f73041d)" style="fill: #808080; fill-opacity: 0.12; stroke: #7a7a7a; stroke-width: 0.85"/>
   </g>
   <g id="Path3DCollection_9">
    
    <g clip-path="url(#p834f73041d)">
     <path d="M 0 5 
C 1.32 5 2.59 4.47 3.53 3.53 
C 4.47 2.59 5 1.32 5 0 
C 5 -1.32 4.47 -2.59 3.53 -3.53 
C 2.59 -4.47 1.32 -5 0 -5 
C -1.32 -5 -2.59 -4.47 -3.53 -3.53 
C -4.47 -2.59 -5 -1.32 -5 0 
C -5 1.32 -4.47 2.59 -3.53 3.53 
C -2.59 4.47 -1.32 5 0 5 
z
" transform="translate(265.93 587.11)" style="fill: #ffa256; stroke: #ffa256"/>
    </g>
   </g>
   <g id="Path3DCollection_10">
    
    <g clip-path="url(#p834f73041d)">
     <path d="M 0 -5 
L -1.12 -1.54 
L -4.75 -1.54 
L -1.81 0.59 
L -2.93 4.04 
L -0 1.90 
L 2.93 4.04 
L 1.81 0.59 
L 4.75 -1.54 
L 1.12 -1.54 
z
" transform="translate(225.40 606.27)" style="fill: #f73c1e; stroke: #f73c1e"/>
    </g>
   </g>
   <g id="legend_3">
    <g id="patch_20">
     <path d="M 269.99 457.17 
L 353.17 457.17 
Q 355.17 457.17 355.17 455.17 
L 355.17 426.81 
Q 355.17 424.81 353.17 424.81 
L 269.99 424.81 
Q 267.99 424.81 267.99 426.81 
L 267.99 455.17 
Q 267.99 457.17 269.99 457.17 
z
" style="fill: #ffffff; opacity: 0.8; stroke: #cccccc; stroke-linejoin: miter"/>
    </g>
    <g id="Path3DCollection_11">
     <g>
      <path d="M 0 5 
C 1.32 5 2.59 4.47 3.53 3.53 
C 4.47 2.59 5 1.32 5 0 
C 5 -1.32 4.47 -2.59 3.53 -3.53 
C 2.59 -4.47 1.32 -5 0 -5 
C -1.32 -5 -2.59 -4.47 -3.53 -3.53 
C -4.47 -2.59 -5 -1.32 -5 0 
C -5 1.32 -4.47 2.59 -3.53 3.53 
C -2.59 4.47 -1.32 5 0 5 
z
" transform="translate(281.99 433.79)" style="fill: #ffa256; stroke: #ffa256"/>
     </g>
    </g>
    <g id="text_97">
     <text style="font-size: 10px; font-family: 'DejaVu Sans', sans-serif; text-anchor: start" x="299.99" y="436.41" transform="rotate(-0.01 299.99 436.41)">Initital</text>
    </g>
    <g id="Path3DCollection_12">
     <g>
      <path d="M 0 -5 
L -1.12 -1.54 
L -4.75 -1.54 
L -1.81 0.59 
L -2.93 4.04 
L -0 1.90 
L 2.93 4.04 
L 1.81 0.59 
L 4.75 -1.54 
L 1.12 -1.54 
z
" transform="translate(281.99 448.46)" style="fill: #f73c1e; stroke: #f73c1e"/>
     </g>
    </g>
    <g id="text_98">
     <text style="font-size: 10px; font-family: 'DejaVu Sans', sans-serif; text-anchor: start" x="299.99" y="451.09" transform="rotate(-0.01 299.99 451.09)">Optimized</text>
    </g>
   </g>
  </g>
  <g id="axes_6">
   <g id="patch_21">
    <path d="M 396.76 752.32 
L 413.87 752.32 
L 413.87 419.68 
L 396.76 419.68 
z
" style="fill: #ffffff"/>
   </g>
   <rect x="396.72" y="419.76" width="17.28" height="332.64" fill="url(#rbw)"/>
   <g id="matplotlib.axis_5"/>
   <g id="matplotlib.axis_6">
    <g id="ytick_13">
     <g id="line2d_91">
      <g>
       <path d="M 0 0 
L 3.5 0 
" transform="translate(413.87 752.32)" style="stroke: #000000; stroke-width: 0.8"/>
      </g>
     </g>
     <g id="text_99">
      <text style="font-size: 10px; font-family: 'DejaVu Sans', sans-serif; text-anchor: start" x="420.87" y="756.12" transform="rotate(-0.01 420.87 756.12)">2.2</text>
     </g>
    </g>
    <g id="ytick_14">
     <g id="line2d_92">
      <g>
       <path d="M 0 0 
L 3.5 0 
" transform="translate(413.87 685.79)" style="stroke: #000000; stroke-width: 0.8"/>
      </g>
     </g>
     <g id="text_100">
      <text style="font-size: 10px; font-family: 'DejaVu Sans', sans-serif; text-anchor: start" x="420.87" y="689.59" transform="rotate(-0.01 420.87 689.59)">2.3</text>
     </g>
    </g>
    <g id="ytick_15">
     <g id="line2d_93">
      <g>
       <path d="M 0 0 
L 3.5 0 
" transform="translate(413.87 619.26)" style="stroke: #000000; stroke-width: 0.8"/>
      </g>
     </g>
     <g id="text_101">
      <text style="font-size: 10px; font-family: 'DejaVu Sans', sans-serif; text-anchor: start" x="420.87" y="623.06" transform="rotate(-0.01 420.87 623.06)">2.4</text>
     </g>
    </g>
    <g id="ytick_16">
     <g id="line2d_94">
      <g>
       <path d="M 0 0 
L 3.5 0 
" transform="translate(413.87 552.74)" style="stroke: #000000; stroke-width: 0.8"/>
      </g>
     </g>
     <g id="text_102">
      <text style="font-size: 10px; font-family: 'DejaVu Sans', sans-serif; text-anchor: start" x="420.87" y="556.54" transform="rotate(-0.01 420.87 556.54)">2.5</text>
     </g>
    </g>
    <g id="ytick_17">
     <g id="line2d_95">
      <g>
       <path d="M 0 0 
L 3.5 0 
" transform="translate(413.87 486.21)" style="stroke: #000000; stroke-width: 0.8"/>
      </g>
     </g>
     <g id="text_103">
      <text style="font-size: 10px; font-family: 'DejaVu Sans', sans-serif; text-anchor: start" x="420.87" y="490.01" transform="rotate(-0.01 420.87 490.01)">2.6</text>
     </g>
    </g>
    <g id="ytick_18">
     <g id="line2d_96">
      <g>
       <path d="M 0 0 
L 3.5 0 
" transform="translate(413.87 419.68)" style="stroke: #000000; stroke-width: 0.8"/>
      </g>
     </g>
     <g id="text_104">
      <text style="font-size: 10px; font-family: 'DejaVu Sans', sans-serif; text-anchor: start" x="420.87" y="423.48" transform="rotate(-0.01 420.87 423.48)">2.7</text>
     </g>
    </g>
    <g id="text_105">
     <text style="stroke-width: 0.15px; font-size: 10px; font-family: 'DejaVu Sans', sans-serif; text-anchor: middle" x="448.37" y="586.00" transform="rotate(-90 448.37 586.00)">Product revenue (CNY/t)</text>
    </g>
   </g>
   <g id="LineCollection_3"/>
   <g id="patch_22">
    <path d="M 396.76 752.32 
L 405.32 752.32 
L 413.87 752.32 
L 413.87 419.68 
L 405.32 419.68 
L 396.76 419.68 
L 396.76 752.32 
z
" style="fill: none; stroke: #000000; stroke-width: 0.8; stroke-linejoin: miter; stroke-linecap: square"/>
   </g>
  </g>
  <g id="patch_23">
   <path d="M 514.85 753.38 
L 849.23 753.38 
L 849.23 419.00 
L 514.85 419.00 
z
" style="fill: #ffffff"/>
  </g>
  <g id="pane3d_10">
   <g id="patch_24">
    <path d="M 540.10 670.93 
L 650.52 578.37 
L 648.99 444.88 
L 533.28 529.32 
" style="fill: #f9f9f9; stroke: #f9f9f9; stroke-linejoin: miter"/>
   </g>
  </g>
  <g id="pane3d_11">
   <g id="patch_25">
    <path d="M 650.52 578.37 
L 827.71 629.87 
L 834.04 491.79 
L 648.99 444.88 
" style="fill: #f8f8f8; stroke: #f8f8f8; stroke-linejoin: miter"/>
   </g>
  </g>
  <g id="pane3d_12">
   <g id="patch_26">
    <path d="M 540.10 670.93 
L 727.93 732.27 
L 827.71 629.87 
L 650.52 578.37 
" style="fill: #f6f6f6; stroke: #f6f6f6; stroke-linejoin: miter"/>
   </g>
  </g>
  <g id="grid3d_10">
   <g id="Line3DCollection_10">
    <path d="M 542.43 671.69 
L 652.73 579.01 
L 651.29 445.47 
" style="fill: none; stroke: #b0b0b0"/>
    <path d="M 580.11 683.99 
L 688.40 589.38 
L 688.47 454.89 
" style="fill: none; stroke: #b0b0b0"/>
    <path d="M 618.62 696.57 
L 724.78 599.95 
L 726.44 464.52 
" style="fill: none; stroke: #b0b0b0"/>
    <path d="M 657.98 709.43 
L 761.91 610.74 
L 765.22 474.34 
" style="fill: none; stroke: #b0b0b0"/>
    <path d="M 698.22 722.57 
L 799.79 621.76 
L 804.83 484.38 
" style="fill: none; stroke: #b0b0b0"/>
   </g>
  </g>
  <g id="grid3d_11">
   <g id="Line3DCollection_11">
    <path d="M 535.24 527.89 
L 541.96 669.37 
L 729.62 730.54 
" style="fill: none; stroke: #b0b0b0"/>
    <path d="M 550.35 516.87 
L 556.34 657.32 
L 742.66 717.16 
" style="fill: none; stroke: #b0b0b0"/>
    <path d="M 565.13 506.08 
L 570.41 645.53 
L 755.41 704.08 
" style="fill: none; stroke: #b0b0b0"/>
    <path d="M 579.58 495.53 
L 584.19 633.98 
L 767.87 691.28 
" style="fill: none; stroke: #b0b0b0"/>
    <path d="M 593.72 485.21 
L 597.68 622.67 
L 780.07 678.77 
" style="fill: none; stroke: #b0b0b0"/>
    <path d="M 607.57 475.11 
L 610.90 611.59 
L 792.00 666.52 
" style="fill: none; stroke: #b0b0b0"/>
    <path d="M 621.11 465.23 
L 623.85 600.73 
L 803.69 654.53 
" style="fill: none; stroke: #b0b0b0"/>
    <path d="M 634.38 455.55 
L 636.54 590.10 
L 815.12 642.79 
" style="fill: none; stroke: #b0b0b0"/>
    <path d="M 647.37 446.06 
L 648.98 579.67 
L 826.32 631.30 
" style="fill: none; stroke: #b0b0b0"/>
   </g>
  </g>
  <g id="grid3d_12">
   <g id="Line3DCollection_12">
    <path d="M 827.83 627.39 
L 650.50 575.97 
L 539.98 668.39 
" style="fill: none; stroke: #b0b0b0"/>
    <path d="M 828.52 612.34 
L 650.33 561.39 
L 539.24 652.97 
" style="fill: none; stroke: #b0b0b0"/>
    <path d="M 829.21 597.14 
L 650.16 546.67 
L 538.49 637.40 
" style="fill: none; stroke: #b0b0b0"/>
    <path d="M 829.92 581.78 
L 649.99 531.82 
L 537.73 621.67 
" style="fill: none; stroke: #b0b0b0"/>
    <path d="M 830.63 566.28 
L 649.82 516.82 
L 536.96 605.77 
" style="fill: none; stroke: #b0b0b0"/>
    <path d="M 831.34 550.62 
L 649.64 501.69 
L 536.19 589.71 
" style="fill: none; stroke: #b0b0b0"/>
    <path d="M 832.07 534.80 
L 649.47 486.41 
L 535.41 573.48 
" style="fill: none; stroke: #b0b0b0"/>
    <path d="M 832.80 518.83 
L 649.29 470.98 
L 534.62 557.09 
" style="fill: none; stroke: #b0b0b0"/>
    <path d="M 833.54 502.69 
L 649.11 455.40 
L 533.82 540.52 
" style="fill: none; stroke: #b0b0b0"/>
   </g>
  </g>
  <g id="axis3d_10">
   <g id="line2d_97">
    <path d="M 540.10 670.93 
L 727.93 732.27 
" style="fill: none; stroke: #000000; stroke-width: 0.8; stroke-linecap: square"/>
   </g>
   <g id="xtick_70">
    <g id="line2d_98">
     <path d="M 543.39 670.88 
L 540.50 673.30 
" style="fill: none; stroke: #000000; stroke-width: 0.8; stroke-linecap: square"/>
    </g>
    <g id="text_106">
     <text style="font-size: 10px; font-family: 'DejaVu Sans', sans-serif; text-anchor: middle" x="534.90" y="694.94" transform="rotate(-0.01 534.90 694.94)">500</text>
    </g>
   </g>
   <g id="xtick_71">
    <g id="line2d_99">
     <path d="M 581.05 683.17 
L 578.22 685.65 
" style="fill: none; stroke: #000000; stroke-width: 0.8; stroke-linecap: square"/>
    </g>
    <g id="text_107">
     <text style="font-size: 10px; font-family: 'DejaVu Sans', sans-serif; text-anchor: middle" x="572.61" y="707.45" transform="rotate(-0.01 572.61 707.45)">505</text>
    </g>
   </g>
   <g id="xtick_72">
    <g id="line2d_100">
     <path d="M 619.54 695.73 
L 616.76 698.26 
" style="fill: none; stroke: #000000; stroke-width: 0.8; stroke-linecap: square"/>
    </g>
    <g id="text_108">
     <text style="font-size: 10px; font-family: 'DejaVu Sans', sans-serif; text-anchor: middle" x="611.15" y="720.24" transform="rotate(-0.01 611.15 720.24)">510</text>
    </g>
   </g>
   <g id="xtick_73">
    <g id="line2d_101">
     <path d="M 658.89 708.57 
L 656.16 711.15 
" style="fill: none; stroke: #000000; stroke-width: 0.8; stroke-linecap: square"/>
    </g>
    <g id="text_109">
     <text style="font-size: 10px; font-family: 'DejaVu Sans', sans-serif; text-anchor: middle" x="650.55" y="733.31" transform="rotate(-0.01 650.55 733.31)">515</text>
    </g>
   </g>
   <g id="xtick_74">
    <g id="line2d_102">
     <path d="M 699.11 721.69 
L 696.45 724.34 
" style="fill: none; stroke: #000000; stroke-width: 0.8; stroke-linecap: square"/>
    </g>
    <g id="text_110">
     <text style="font-size: 10px; font-family: 'DejaVu Sans', sans-serif; text-anchor: middle" x="690.84" y="746.68" transform="rotate(-0.01 690.84 746.68)">520</text>
    </g>
   </g>
   <g id="text_111">
    <g transform="translate(-2.22 0.00)"><text textLength="147.93" lengthAdjust="spacingAndGlyphs" style="stroke-width: 0.2px; font-size: 12.4px; font-family: 'Liberation Mono', 'IPAGothic', monospace; text-anchor: middle" x="613.91" y="740.20" transform="rotate(-341.91 613.91 740.20)">Reactor Temperature (℃)</text></g>
   </g>
  </g>
  <g id="axis3d_11">
   <g id="line2d_103">
    <path d="M 827.71 629.87 
L 727.93 732.27 
" style="fill: none; stroke: #000000; stroke-width: 0.8; stroke-linecap: square"/>
   </g>
   <g id="xtick_75">
    <g id="line2d_104">
     <path d="M 728.04 730.02 
L 732.79 731.57 
" style="fill: none; stroke: #000000; stroke-width: 0.8; stroke-linecap: square"/>
    </g>
    <g id="text_112">
     <text style="font-size: 10px; font-family: 'DejaVu Sans', sans-serif; text-anchor: middle" x="742.56" y="751.62" transform="rotate(-0.01 742.56 751.62)">220.0</text>
    </g>
   </g>
   <g id="xtick_76">
    <g id="line2d_105">
     <path d="M 741.09 716.66 
L 745.80 718.17 
" style="fill: none; stroke: #000000; stroke-width: 0.8; stroke-linecap: square"/>
    </g>
    <g id="text_113">
     <text style="font-size: 10px; font-family: 'DejaVu Sans', sans-serif; text-anchor: middle" x="755.45" y="738.09" transform="rotate(-0.01 755.45 738.09)">222.5</text>
    </g>
   </g>
   <g id="xtick_77">
    <g id="line2d_106">
     <path d="M 753.85 703.59 
L 758.52 705.07 
" style="fill: none; stroke: #000000; stroke-width: 0.8; stroke-linecap: square"/>
    </g>
    <g id="text_114">
     <text style="font-size: 10px; font-family: 'DejaVu Sans', sans-serif; text-anchor: middle" x="768.07" y="724.85" transform="rotate(-0.01 768.07 724.85)">225.0</text>
    </g>
   </g>
   <g id="xtick_78">
    <g id="line2d_107">
     <path d="M 766.33 690.80 
L 770.97 692.25 
" style="fill: none; stroke: #000000; stroke-width: 0.8; stroke-linecap: square"/>
    </g>
    <g id="text_115">
     <text style="font-size: 10px; font-family: 'DejaVu Sans', sans-serif; text-anchor: middle" x="780.40" y="711.90" transform="rotate(-0.01 780.40 711.90)">227.5</text>
    </g>
   </g>
   <g id="xtick_79">
    <g id="line2d_108">
     <path d="M 778.54 678.29 
L 783.14 679.71 
" style="fill: none; stroke: #000000; stroke-width: 0.8; stroke-linecap: square"/>
    </g>
    <g id="text_116">
     <text style="font-size: 10px; font-family: 'DejaVu Sans', sans-serif; text-anchor: middle" x="792.47" y="699.24" transform="rotate(-0.01 792.47 699.24)">230.0</text>
    </g>
   </g>
   <g id="xtick_80">
    <g id="line2d_109">
     <path d="M 790.48 666.06 
L 795.05 667.44 
" style="fill: none; stroke: #000000; stroke-width: 0.8; stroke-linecap: square"/>
    </g>
    <g id="text_117">
     <text style="font-size: 10px; font-family: 'DejaVu Sans', sans-serif; text-anchor: middle" x="804.27" y="686.85" transform="rotate(-0.01 804.27 686.85)">232.5</text>
    </g>
   </g>
   <g id="xtick_81">
    <g id="line2d_110">
     <path d="M 802.18 654.08 
L 806.71 655.44 
" style="fill: none; stroke: #000000; stroke-width: 0.8; stroke-linecap: square"/>
    </g>
    <g id="text_118">
     <text style="font-size: 10px; font-family: 'DejaVu Sans', sans-serif; text-anchor: middle" x="815.83" y="674.72" transform="rotate(-0.01 815.83 674.72)">235.0</text>
    </g>
   </g>
   <g id="xtick_82">
    <g id="line2d_111">
     <path d="M 813.62 642.35 
L 818.13 643.68 
" style="fill: none; stroke: #000000; stroke-width: 0.8; stroke-linecap: square"/>
    </g>
    <g id="text_119">
     <text style="font-size: 10px; font-family: 'DejaVu Sans', sans-serif; text-anchor: middle" x="827.14" y="662.85" transform="rotate(-0.01 827.14 662.85)">237.5</text>
    </g>
   </g>
   <g id="xtick_83">
    <g id="line2d_112">
     <path d="M 824.83 630.87 
L 829.30 632.17 
" style="fill: none; stroke: #000000; stroke-width: 0.8; stroke-linecap: square"/>
    </g>
    <g id="text_120">
     <text style="font-size: 10px; font-family: 'DejaVu Sans', sans-serif; text-anchor: middle" x="838.22" y="651.22" transform="rotate(-0.01 838.22 651.22)">240.0</text>
    </g>
   </g>
   <g id="text_121">
    <g transform="translate(-1.37 0.51)"><text textLength="146.22" lengthAdjust="spacingAndGlyphs" style="stroke-width: 0.2px; font-size: 12.4px; font-family: 'Liberation Mono', 'IPAGothic', monospace; text-anchor: middle" x="810.18" y="709.86" transform="rotate(-45.74 810.18 709.86)">Preheat Temperature (℃)</text></g>
   </g>
  </g>
  <g id="axis3d_12">
   <g id="line2d_113">
    <path d="M 827.71 629.87 
L 834.04 491.79 
" style="fill: none; stroke: #000000; stroke-width: 0.8; stroke-linecap: square"/>
   </g>
   <g id="xtick_84">
    <g id="line2d_114">
     <path d="M 826.34 626.96 
L 830.81 628.26 
" style="fill: none; stroke: #000000; stroke-width: 0.8; stroke-linecap: square"/>
    </g>
    <g id="text_122">
     <text style="font-size: 10px; font-family: 'DejaVu Sans', sans-serif; text-anchor: middle" x="846.10" y="632.39" transform="rotate(-0.01 846.10 632.39)">668</text>
    </g>
   </g>
   <g id="xtick_85">
    <g id="line2d_115">
     <path d="M 827.02 611.91 
L 831.51 613.20 
" style="fill: none; stroke: #000000; stroke-width: 0.8; stroke-linecap: square"/>
    </g>
    <g id="text_123">
     <text style="font-size: 10px; font-family: 'DejaVu Sans', sans-serif; text-anchor: middle" x="846.88" y="617.36" transform="rotate(-0.01 846.88 617.36)">670</text>
    </g>
   </g>
   <g id="xtick_86">
    <g id="line2d_116">
     <path d="M 827.71 596.71 
L 832.22 597.98 
" style="fill: none; stroke: #000000; stroke-width: 0.8; stroke-linecap: square"/>
    </g>
    <g id="text_124">
     <text style="font-size: 10px; font-family: 'DejaVu Sans', sans-serif; text-anchor: middle" x="847.66" y="602.18" transform="rotate(-0.01 847.66 602.18)">672</text>
    </g>
   </g>
   <g id="xtick_87">
    <g id="line2d_117">
     <path d="M 828.41 581.36 
L 832.94 582.62 
" style="fill: none; stroke: #000000; stroke-width: 0.8; stroke-linecap: square"/>
    </g>
    <g id="text_125">
     <text style="font-size: 10px; font-family: 'DejaVu Sans', sans-serif; text-anchor: middle" x="848.46" y="586.85" transform="rotate(-0.01 848.46 586.85)">674</text>
    </g>
   </g>
   <g id="xtick_88">
    <g id="line2d_118">
     <path d="M 829.11 565.86 
L 833.67 567.11 
" style="fill: none; stroke: #000000; stroke-width: 0.8; stroke-linecap: square"/>
    </g>
    <g id="text_126">
     <text style="font-size: 10px; font-family: 'DejaVu Sans', sans-serif; text-anchor: middle" x="849.26" y="571.37" transform="rotate(-0.01 849.26 571.37)">676</text>
    </g>
   </g>
   <g id="xtick_89">
    <g id="line2d_119">
     <path d="M 829.82 550.21 
L 834.40 551.44 
" style="fill: none; stroke: #000000; stroke-width: 0.8; stroke-linecap: square"/>
    </g>
    <g id="text_127">
     <text style="font-size: 10px; font-family: 'DejaVu Sans', sans-serif; text-anchor: middle" x="850.06" y="555.74" transform="rotate(-0.01 850.06 555.74)">678</text>
    </g>
   </g>
   <g id="xtick_90">
    <g id="line2d_120">
     <path d="M 830.53 534.40 
L 835.14 535.62 
" style="fill: none; stroke: #000000; stroke-width: 0.8; stroke-linecap: square"/>
    </g>
    <g id="text_128">
     <text style="font-size: 10px; font-family: 'DejaVu Sans', sans-serif; text-anchor: middle" x="850.88" y="539.95" transform="rotate(-0.01 850.88 539.95)">680</text>
    </g>
   </g>
   <g id="xtick_91">
    <g id="line2d_121">
     <path d="M 831.26 518.43 
L 835.89 519.63 
" style="fill: none; stroke: #000000; stroke-width: 0.8; stroke-linecap: square"/>
    </g>
    <g id="text_129">
     <text style="font-size: 10px; font-family: 'DejaVu Sans', sans-serif; text-anchor: middle" x="851.70" y="524.00" transform="rotate(-0.01 851.70 524.00)">682</text>
    </g>
   </g>
   <g id="xtick_92">
    <g id="line2d_122">
     <path d="M 831.99 502.29 
L 836.64 503.49 
" style="fill: none; stroke: #000000; stroke-width: 0.8; stroke-linecap: square"/>
    </g>
    <g id="text_130">
     <text style="font-size: 10px; font-family: 'DejaVu Sans', sans-serif; text-anchor: middle" x="852.54" y="507.89" transform="rotate(-0.01 852.54 507.89)">684</text>
    </g>
   </g>
   <g id="text_131">
    <g transform="translate(-0.86 1.03)"><text textLength="170.17" lengthAdjust="spacingAndGlyphs" style="stroke-width: 0.2px; font-size: 12.4px; font-family: 'Liberation Mono', 'IPAGothic', monospace; text-anchor: middle" x="875.64" y="557.13" transform="rotate(-87.37 875.64 557.13)">Regenerator Temperature (℃)</text></g>
   </g>
  </g>
  <g id="axes_7">
   <g id="Poly3DCollection_4">
    <path d="M 807.61 557.01 
L 730.53 535.99 
L 731.20 487.97 
L 809.48 508.28 
z
" clip-path="url(#p2e4cadb442)" style="fill: #808080; fill-opacity: 0.12; stroke: #7a7a7a; stroke-width: 0.85"/>
    <path d="M 681.21 578.38 
L 730.53 535.99 
L 731.20 487.97 
L 681.12 528.95 
z
" clip-path="url(#p2e4cadb442)" style="fill: #808080; fill-opacity: 0.12; stroke: #7a7a7a; stroke-width: 0.85"/>
    <path d="M 681.21 578.38 
L 760.55 601.25 
L 807.61 557.01 
L 730.53 535.99 
z
" clip-path="url(#p2e4cadb442)" style="fill: #808080; fill-opacity: 0.12; stroke: #7a7a7a; stroke-width: 0.85"/>
    <path d="M 681.12 528.95 
L 761.74 551.08 
L 809.48 508.28 
L 731.20 487.97 
z
" clip-path="url(#p2e4cadb442)" style="fill: #808080; fill-opacity: 0.12; stroke: #7a7a7a; stroke-width: 0.85"/>
    <path d="M 760.55 601.25 
L 807.61 557.01 
L 809.48 508.28 
L 761.74 551.08 
z
" clip-path="url(#p2e4cadb442)" style="fill: #808080; fill-opacity: 0.12; stroke: #7a7a7a; stroke-width: 0.85"/>
    <path d="M 681.21 578.38 
L 760.55 601.25 
L 761.74 551.08 
L 681.12 528.95 
z
" clip-path="url(#p2e4cadb442)" style="fill: #808080; fill-opacity: 0.12; stroke: #7a7a7a; stroke-width: 0.85"/>
   </g>
   <g id="Path3DCollection_13">
    
    <g clip-path="url(#p2e4cadb442)">
     <path d="M 0 5 
C 1.32 5 2.59 4.47 3.53 3.53 
C 4.47 2.59 5 1.32 5 0 
C 5 -1.32 4.47 -2.59 3.53 -3.53 
C 2.59 -4.47 1.32 -5 0 -5 
C -1.32 -5 -2.59 -4.47 -3.53 -3.53 
C -4.47 -2.59 -5 -1.32 -5 0 
C -5 1.32 -4.47 2.59 -3.53 3.53 
C -2.59 4.47 -1.32 5 0 5 
z
" transform="translate(745.48 543.84)" style="fill: #5edfa9; stroke: #5edfa9"/>
    </g>
   </g>
   <g id="Path3DCollection_14">
    
    <g clip-path="url(#p2e4cadb442)">
     <path d="M 0 -5 
L -1.12 -1.54 
L -4.75 -1.54 
L -1.81 0.59 
L -2.93 4.04 
L -0 1.90 
L 2.93 4.04 
L 1.81 0.59 
L 4.75 -1.54 
L 1.12 -1.54 
z
" transform="translate(731.62 570.86)" style="fill: #dbc36d; stroke: #dbc36d"/>
    </g>
   </g>
   <g id="legend_4">
    <g id="patch_27">
     <path d="M 756.20 457.17 
L 839.39 457.17 
Q 841.39 457.17 841.39 455.17 
L 841.39 426.81 
Q 841.39 424.81 839.39 424.81 
L 756.20 424.81 
Q 754.20 424.81 754.20 426.81 
L 754.20 455.17 
Q 754.20 457.17 756.20 457.17 
z
" style="fill: #ffffff; opacity: 0.8; stroke: #cccccc; stroke-linejoin: miter"/>
    </g>
    <g id="Path3DCollection_15">
     <g>
      <path d="M 0 5 
C 1.32 5 2.59 4.47 3.53 3.53 
C 4.47 2.59 5 1.32 5 0 
C 5 -1.32 4.47 -2.59 3.53 -3.53 
C 2.59 -4.47 1.32 -5 0 -5 
C -1.32 -5 -2.59 -4.47 -3.53 -3.53 
C -4.47 -2.59 -5 -1.32 -5 0 
C -5 1.32 -4.47 2.59 -3.53 3.53 
C -2.59 4.47 -1.32 5 0 5 
z
" transform="translate(768.20 433.79)" style="fill: #5edfa9; stroke: #5edfa9"/>
     </g>
    </g>
    <g id="text_132">
     <text style="font-size: 10px; font-family: 'DejaVu Sans', sans-serif; text-anchor: start" x="786.20" y="436.41" transform="rotate(-0.01 786.20 436.41)">Initital</text>
    </g>
    <g id="Path3DCollection_16">
     <g>
      <path d="M 0 -5 
L -1.12 -1.54 
L -4.75 -1.54 
L -1.81 0.59 
L -2.93 4.04 
L -0 1.90 
L 2.93 4.04 
L 1.81 0.59 
L 4.75 -1.54 
L 1.12 -1.54 
z
" transform="translate(768.20 448.46)" style="fill: #dbc36d; stroke: #dbc36d"/>
     </g>
    </g>
    <g id="text_133">
     <text style="font-size: 10px; font-family: 'DejaVu Sans', sans-serif; text-anchor: start" x="786.20" y="451.09" transform="rotate(-0.01 786.20 451.09)">Optimized</text>
    </g>
   </g>
  </g>
  <g id="axes_8">
   <g id="patch_28">
    <path d="M 882.98 752.32 
L 900.08 752.32 
L 900.08 419.68 
L 882.98 419.68 
z
" style="fill: #ffffff"/>
   </g>
   <rect x="882.72" y="419.76" width="17.28" height="332.64" fill="url(#rbw)"/>
   <g id="matplotlib.axis_7"/>
   <g id="matplotlib.axis_8">
    <g id="ytick_19">
     <g id="line2d_123">
      <g>
       <path d="M 0 0 
L 3.5 0 
" transform="translate(900.08 752.32)" style="stroke: #000000; stroke-width: 0.8"/>
      </g>
     </g>
     <g id="text_134">
      <text style="font-size: 10px; font-family: 'DejaVu Sans', sans-serif; text-anchor: start" x="907.08" y="756.12" transform="rotate(-0.01 907.08 756.12)">2.2</text>
     </g>
    </g>
    <g id="ytick_20">
     <g id="line2d_124">
      <g>
       <path d="M 0 0 
L 3.5 0 
" transform="translate(900.08 685.79)" style="stroke: #000000; stroke-width: 0.8"/>
      </g>
     </g>
     <g id="text_135">
      <text style="font-size: 10px; font-family: 'DejaVu Sans', sans-serif; text-anchor: start" x="907.08" y="689.59" transform="rotate(-0.01 907.08 689.59)">2.3</text>
     </g>
    </g>
    <g id="ytick_21">
     <g id="line2d_125">
      <g>
       <path d="M 0 0 
L 3.5 0 
" transform="translate(900.08 619.26)" style="stroke: #000000; stroke-width: 0.8"/>
      </g>
     </g>
     <g id="text_136">
      <text style="font-size: 10px; font-family: 'DejaVu Sans', sans-serif; text-anchor: start" x="907.08" y="623.06" transform="rotate(-0.01 907.08 623.06)">2.4</text>
     </g>
    </g>
    <g id="ytick_22">
     <g id="line2d_126">
      <g>
       <path d="M 0 0 
L 3.5 0 
" transform="translate(900.08 552.74)" style="stroke: #000000; stroke-width: 0.8"/>
      </g>
     </g>
     <g id="text_137">
      <text style="font-size: 10px; font-family: 'DejaVu Sans', sans-serif; text-anchor: start" x="907.08" y="556.54" transform="rotate(-0.01 907.08 556.54)">2.5</text>
     </g>
    </g>
    <g id="ytick_23">
     <g id="line2d_127">
      <g>
       <path d="M 0 0 
L 3.5 0 
" transform="translate(900.08 486.21)" style="stroke: #000000; stroke-width: 0.8"/>
      </g>
     </g>
     <g id="text_138">
      <text style="font-size: 10px; font-family: 'DejaVu Sans', sans-serif; text-anchor: start" x="907.08" y="490.01" transform="rotate(-0.01 907.08 490.01)">2.6</text>
     </g>
    </g>
    <g id="ytick_24">
     <g id="line2d_128">
      <g>
       <path d="M 0 0 
L 3.5 0 
" transform="translate(900.08 419.68)" style="stroke: #000000; stroke-width: 0.8"/>
      </g>
     </g>
     <g id="text_139">
      <text style="font-size: 10px; font-family: 'DejaVu Sans', sans-serif; text-anchor: start" x="907.08" y="423.48" transform="rotate(-0.01 907.08 423.48)">2.7</text>
     </g>
    </g>
    <g id="text_140">
     <text style="stroke-width: 0.15px; font-size: 10px; font-family: 'DejaVu Sans', sans-serif; text-anchor: middle" x="934.58" y="586.00" transform="rotate(-90 934.58 586.00)">Product revenue (CNY/t)</text>
    </g>
   </g>
   <g id="LineCollection_4"/>
   <g id="patch_29">
    <path d="M 882.98 752.32 
L 891.53 752.32 
L 900.08 752.32 
L 900.08 419.68 
L 891.53 419.68 
L 882.98 419.68 
L 882.98 752.32 
z
" style="fill: none; stroke: #000000; stroke-width: 0.8; stroke-linejoin: miter; stroke-linecap: square"/>
   </g>
  </g>
 </g>
 <defs>
  <clipPath id="pbe417dcc4d">
   <rect x="28.64" y="26.67" width="334.37" height="334.37"/>
  </clipPath>
  <clipPath id="p86e88a54c8">
   <rect x="514.85" y="26.67" width="334.37" height="334.37"/>
  </clipPath>
  <clipPath id="p834f73041d">
   <rect x="28.64" y="419.00" width="334.37" height="334.37"/>
  </clipPath>
  <clipPath id="p2e4cadb442">
   <rect x="514.85" y="419.00" width="334.37" height="334.37"/>
  </clipPath>
 </defs>
</svg>

<svg width="550" height="448" viewBox="0 0 550 448" style="font-family:'Liberation Sans',sans-serif">
<g class="pl" fill="#3a3a3a" font-size="11.7px">
<text x="2.0" y="45.0">(a)</text>
<text x="277.0" y="44.4">(b)</text>
<text x="2.1" y="281.0">(c)</text>
<text x="277.0" y="280.3">(d)</text>
</g>
<g fill="#000" style="font-family:'DejaVu Sans',sans-serif">
<text x="225.4" y="9.3" font-size="8px">10<tspan font-size="5px" dy="-3.6">6</tspan></text>
<text x="509.7" y="9.5" font-size="8px">10<tspan font-size="5px" dy="-3.6">6</tspan></text>
<text x="225.4" y="240.0" font-size="8px">10<tspan font-size="5px" dy="-3.6">6</tspan></text>
<text x="510.4" y="240.0" font-size="8px">10<tspan font-size="5px" dy="-3.6">6</tspan></text>
</g>
</svg>

</div></body></html>
